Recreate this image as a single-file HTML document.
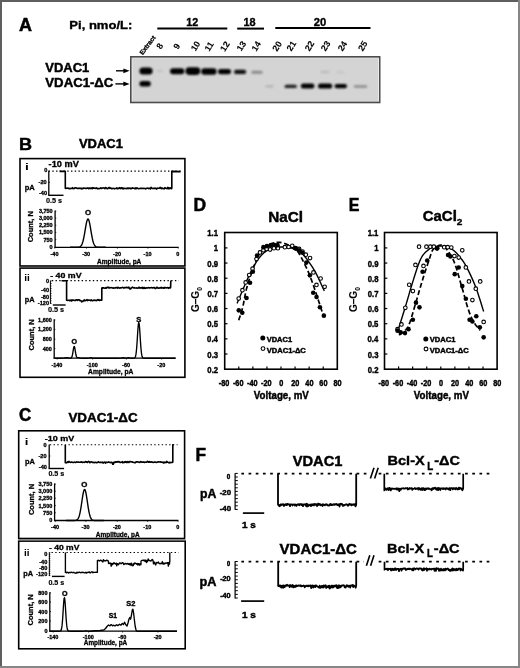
<!DOCTYPE html>
<html><head><meta charset="utf-8"><title>Figure</title>
<style>
html,body{margin:0;padding:0;background:#fff;width:520px;height:668px;overflow:hidden}
svg{display:block}
</style></head><body>
<svg width="520" height="668" viewBox="0 0 520 668" font-family="'Liberation Sans', Arial, Helvetica, sans-serif" font-weight="bold">
<rect x="0" y="0" width="520" height="668" fill="#fff"/>
<defs><filter id="bl" x="-40%" y="-80%" width="180%" height="260%"><feGaussianBlur stdDeviation="0.9"/></filter><filter id="bl2" x="-40%" y="-80%" width="180%" height="260%"><feGaussianBlur stdDeviation="1.2"/></filter><filter id="soft" x="-5%" y="-5%" width="110%" height="110%"><feGaussianBlur stdDeviation="0.35"/></filter></defs>
<text x="0" y="0" font-size="17.44" transform="translate(19.1 30.5) scale(1.03 1)" stroke="#000" stroke-width="0.49">A</text>
<text x="0" y="0" font-size="11.45" transform="translate(69.33 28.7) scale(1.14 1)" stroke="#000" stroke-width="0.35">Pi, nmo/L:</text>
<line x1="157.3" y1="28.5" x2="227.3" y2="28.5" stroke="#000" stroke-width="2"/>
<text x="0" y="0" font-size="10.67" transform="translate(186.24 25.62) scale(1.01 1)" stroke="#000" stroke-width="0.35">12</text>
<line x1="237.2" y1="28.6" x2="264" y2="28.6" stroke="#000" stroke-width="2"/>
<text x="0" y="0" font-size="10.96" transform="translate(243.49 25.72) scale(1 1)" stroke="#000" stroke-width="0.35">18</text>
<line x1="275.3" y1="28.1" x2="370.5" y2="28.1" stroke="#000" stroke-width="2"/>
<text x="0" y="0" font-size="10.81" transform="translate(313.79 25.72) scale(1.04 1)" stroke="#000" stroke-width="0.34">20</text>
<text x="-2.45" y="3.03" font-size="8.8" stroke="#000" stroke-width="0.1" transform="translate(159.6 46.2) rotate(-58)">8</text>
<text x="-2.44" y="3.03" font-size="8.8" stroke="#000" stroke-width="0.1" transform="translate(176.7 46.4) rotate(-58)">9</text>
<text x="-4.99" y="3.03" font-size="8.8" stroke="#000" stroke-width="0.1" transform="translate(195.6 46) rotate(-58)">10</text>
<text x="-5.05" y="3.03" font-size="8.8" stroke="#000" stroke-width="0.1" transform="translate(209.3 46) rotate(-58)">11</text>
<text x="-5" y="3.03" font-size="8.8" stroke="#000" stroke-width="0.1" transform="translate(224.9 46.3) rotate(-58)">12</text>
<text x="-5.01" y="3.03" font-size="8.8" stroke="#000" stroke-width="0.1" transform="translate(241.4 46) rotate(-58)">13</text>
<text x="-5.15" y="3.03" font-size="8.8" stroke="#000" stroke-width="0.1" transform="translate(256.4 46) rotate(-58)">14</text>
<text x="-4.87" y="3.03" font-size="8.8" stroke="#000" stroke-width="0.1" transform="translate(277.1 46.2) rotate(-58)">20</text>
<text x="-4.92" y="3.03" font-size="8.8" stroke="#000" stroke-width="0.1" transform="translate(291.4 46) rotate(-58)">21</text>
<text x="-4.87" y="3.03" font-size="8.8" stroke="#000" stroke-width="0.1" transform="translate(309.4 46) rotate(-58)">22</text>
<text x="-4.89" y="3.03" font-size="8.8" stroke="#000" stroke-width="0.1" transform="translate(325.6 46) rotate(-58)">23</text>
<text x="-5.02" y="3.03" font-size="8.8" stroke="#000" stroke-width="0.1" transform="translate(342.6 46) rotate(-58)">24</text>
<text x="-4.92" y="3.03" font-size="8.8" stroke="#000" stroke-width="0.1" transform="translate(362.8 46) rotate(-58)">25</text>
<text x="-11.2" y="2.27" font-size="6.5" stroke="#000" stroke-width="0.3" transform="translate(147.6 45.0) rotate(-53)">Extract</text>
<rect x="130.8" y="56.8" width="248.9" height="45.7" fill="#d4d4d4" stroke="#4c4c4c" stroke-width="1.6"/>
<line x1="132.4" y1="58.4" x2="132.4" y2="101.2" stroke="#e0e0e0" stroke-width="1"/>
<line x1="132.4" y1="58.4" x2="378" y2="58.4" stroke="#dadada" stroke-width="0.8"/>
<line x1="378.5" y1="58.4" x2="378.5" y2="101.2" stroke="#ececec" stroke-width="1"/>
<rect x="139.4" y="67.5" width="13.2" height="7" rx="3.5" fill="#000" filter="url(#bl)"/>
<rect x="156.8" y="69.7" width="6" height="2.6" rx="1.3" fill="#c2c2c2" filter="url(#bl2)"/>
<rect x="170" y="68.2" width="14.4" height="6" rx="3" fill="#000" filter="url(#bl)"/>
<rect x="185.4" y="67.3" width="15" height="7.6" rx="3.8" fill="#000" filter="url(#bl)"/>
<rect x="201.2" y="68.3" width="15.4" height="6.4" rx="3.2" fill="#000" filter="url(#bl)"/>
<rect x="218" y="69" width="13" height="5.2" rx="2.6" fill="#050505" filter="url(#bl)"/>
<rect x="234" y="69.8" width="12.2" height="4.2" rx="2.1" fill="#101010" filter="url(#bl)"/>
<rect x="251.4" y="70.8" width="11.2" height="3" rx="1.5" fill="#8a8a8a" filter="url(#bl)"/>
<rect x="320.5" y="70.7" width="9" height="2.6" rx="1.3" fill="#bcbcbc" filter="url(#bl2)"/>
<rect x="336.5" y="71.2" width="8" height="2.2" rx="1.1" fill="#c6c6c6" filter="url(#bl2)"/>
<rect x="139.4" y="81" width="11.4" height="5.6" rx="2.8" fill="#000" filter="url(#bl)"/>
<rect x="265.5" y="85.3" width="8" height="2.2" rx="1.1" fill="#b2b2b2" filter="url(#bl2)"/>
<rect x="284.6" y="84.7" width="12.2" height="3.4" rx="1.7" fill="#1a1a1a" filter="url(#bl)"/>
<rect x="300.8" y="83.5" width="13.6" height="5" rx="2.5" fill="#000" filter="url(#bl)"/>
<rect x="318" y="83.4" width="14.2" height="5.2" rx="2.6" fill="#000" filter="url(#bl)"/>
<rect x="334.6" y="83.9" width="12.4" height="4.4" rx="2.2" fill="#030303" filter="url(#bl)"/>
<rect x="353.8" y="85.2" width="13.4" height="2.6" rx="1.3" fill="#8a8a8a" filter="url(#bl)"/>
<text x="0" y="0" font-size="13.1" transform="translate(45.34 71.78) scale(0.99 1)" stroke="#000" stroke-width="0.46">VDAC1</text>
<text x="0" y="0" font-size="12.1" transform="translate(45.33 86.98) scale(1.09 1)" stroke="#000" stroke-width="0.41">VDAC1-ΔC</text>
<line x1="116" y1="70.8" x2="125" y2="70.8" stroke="#000" stroke-width="1.4"/>
<polygon points="129.6,70.8 123.4,68.4 123.4,73.2" fill="#000"/>
<line x1="115.4" y1="83.9" x2="125" y2="83.9" stroke="#000" stroke-width="1.4"/>
<polygon points="129.6,83.9 123.4,81.5 123.4,86.3" fill="#000"/>
<rect x="20" y="158.6" width="164.9" height="107.4" fill="none" stroke="#000" stroke-width="1.6"/>
<text x="0" y="0" font-size="16.72" transform="translate(19.04 149.5) scale(1.08 1)" stroke="#000" stroke-width="0.46">B</text>
<text x="0" y="0" font-size="13.68" transform="translate(78.94 148.18) scale(0.95 1)" stroke="#000" stroke-width="0.47">VDAC1</text>
<text x="0" y="0" font-size="9.52" transform="translate(24.93 170.1) scale(1.45 1)">i</text>
<text x="0" y="0" font-size="8.52" transform="translate(48.62 167.32) scale(1.08 1)" stroke="#000" stroke-width="0.33">-10 mV</text>
<text x="0" y="0" font-size="6.83" transform="translate(24.65 190.45) scale(1.11 1)" stroke="#000" stroke-width="0.27">pA</text>
<line x1="48.8" y1="170.8" x2="48.8" y2="195.3" stroke="#000" stroke-width="1.3"/>
<line x1="48.2" y1="195.3" x2="63.5" y2="195.3" stroke="#000" stroke-width="1.4"/>
<line x1="48.8" y1="182.4" x2="50" y2="182.4" stroke="#000" stroke-width="0.8"/>
<text x="44.17" y="172.33" font-size="5.6" stroke="#000" stroke-width="0.3">0</text>
<text x="38.59" y="184.03" font-size="5.6" stroke="#000" stroke-width="0.3">-20</text>
<text x="38.99" y="195.43" font-size="5.6" stroke="#000" stroke-width="0.3">-40</text>
<text x="0" y="0" font-size="6.8" transform="translate(45.89 203.03) scale(1.07 1)" stroke="#000" stroke-width="0.14">0.5 s</text>
<line x1="48.6" y1="171.2" x2="180.5" y2="171.2" stroke="#000" stroke-width="1.2" stroke-dasharray="1.4 2.33"/>
<polyline points="59.6,171.4 65.3,171.4 65.3,188.21 65.9,188.48 66.5,188.22 67.1,188.19 67.7,187.97 68.3,188.23 68.9,188.69 69.5,188.45 70.1,188.66 70.7,188.39 71.3,188.44 71.9,188.36 72.5,187.72 73.1,188.6 73.7,188.48 74.3,188.47 74.9,187.71 75.5,187.69 76.1,187.99 76.7,188.14 77.3,188.41 77.9,188.28 78.5,188.48 79.1,188.08 79.7,188.41 80.3,188.44 80.9,188.07 81.5,188.9 82.1,188.49 82.7,188.72 83.3,188.08 83.9,188.04 84.5,188.18 85.1,188.26 85.7,188.52 86.3,188.39 86.9,188.14 87.5,187.97 88.1,188.12 88.7,188.73 89.3,188.02 89.9,188.39 90.5,188.45 91.1,187.78 91.7,188.32 92.3,188.76 92.9,187.59 93.5,188.19 94.1,188.26 94.7,188.01 95.3,188.47 95.9,188.28 96.5,187.79 97.1,188.59 97.7,188.53 98.3,188.63 98.9,188.8 99.5,188.43 100.1,188.34 100.7,187.85 101.3,188.52 101.9,188.09 102.5,188.14 103.1,187.86 103.7,187.96 104.3,188.11 104.9,188.75 105.5,187.59 106.1,187.79 106.7,188.38 107.3,188.81 107.9,188.5 108.5,187.64 109.1,187.42 109.7,188.43 110.3,188.04 110.9,187.91 111.5,188.64 112.1,188.69 112.7,188.36 113.3,188.39 113.9,188.45 114.5,188.86 115.1,188.52 115.7,188.48 116.3,188.49 116.9,187.75 117.5,188.75 118.1,188.63 118.7,188.49 119.3,187.61 119.9,188.08 120.5,188.59 121.1,187.67 121.7,188.24 122.3,188.66 122.9,187.84 123.5,188.86 124.1,188.49 124.7,188.25 125.3,188.41 125.9,188.53 126.5,188.34 127.1,188.7 127.7,188.07 128.3,188.15 128.9,188.66 129.5,188.31 130.1,187.99 130.7,188.63 131.3,188.81 131.9,188.14 132.5,187.82 133.1,188.25 133.7,188.25 134.3,188.2 134.9,188.79 135.5,187.94 136.1,188.74 136.7,187.86 137.3,188.02 137.9,188.52 138.5,188.7 139.1,188.6 139.7,188.42 140.3,188.35 140.9,188.35 141.5,188.5 142.1,188.24 142.7,188.4 143.3,188.5 143.9,188.3 144.5,188.57 145.1,188.5 145.7,189 146.3,188.41 146.9,188.15 147.5,188.17 148.1,188.3 148.7,188.62 149.3,188.18 149.9,188.44 150.5,188.94 151.1,187.4 151.7,187.91 152.3,188.39 152.9,188.44 153.5,188.38 154.1,188.15 154.7,188.53 155.3,188.4 155.9,188.12 156.5,189.15 157.1,188.42 157.7,188.11 158.3,188.27 158.9,188.22 159.5,188.28 160.1,187.35 160.7,188.13 161.3,188.65 161.9,187.89 162.5,188.28 163.1,188.63 163.7,188.6 164.3,188.82 164.9,187.7 165.5,188.18 166.1,188.18 166.7,188.52 167.3,188.68 167.9,187.36 168.5,188.68 169.1,187.79 169.7,188.54 170.3,187.78 170.9,188.36 171.5,188.72 171.8,188.3 171.8,171.4 180.6,171.6" fill="none" stroke="#000" stroke-width="1.6" stroke-linejoin="round"/>
<line x1="55.1" y1="210.4" x2="55.1" y2="247.9" stroke="#000" stroke-width="1.3"/>
<line x1="54.5" y1="247.3" x2="178.6" y2="247.3" stroke="#000" stroke-width="1.3"/>
<text x="0" y="0" font-size="5.8" transform="translate(38.89 213.2) scale(0.95 1)" stroke="#000" stroke-width="0.32">3,750</text>
<line x1="55.1" y1="211.2" x2="56.3" y2="211.2" stroke="#000" stroke-width="0.8"/>
<text x="0" y="0" font-size="5.8" transform="translate(38.89 220.2) scale(0.95 1)" stroke="#000" stroke-width="0.32">3,000</text>
<line x1="55.1" y1="218.2" x2="56.3" y2="218.2" stroke="#000" stroke-width="0.8"/>
<text x="0" y="0" font-size="5.8" transform="translate(38.89 227.3) scale(0.95 1)" stroke="#000" stroke-width="0.32">2,250</text>
<line x1="55.1" y1="225.3" x2="56.3" y2="225.3" stroke="#000" stroke-width="0.8"/>
<text x="0" y="0" font-size="5.8" transform="translate(38.89 234.4) scale(0.95 1)" stroke="#000" stroke-width="0.32">1,500</text>
<line x1="55.1" y1="232.4" x2="56.3" y2="232.4" stroke="#000" stroke-width="0.8"/>
<text x="0" y="0" font-size="5.8" transform="translate(43.48 241.6) scale(0.95 1)" stroke="#000" stroke-width="0.32">750</text>
<line x1="55.1" y1="239.6" x2="56.3" y2="239.6" stroke="#000" stroke-width="0.8"/>
<text x="0" y="0" font-size="5.8" transform="translate(49.61 248.8) scale(0.95 1)" stroke="#000" stroke-width="0.32">0</text>
<text x="0" y="0" font-size="5.8" transform="translate(50.52 255.8) scale(0.95 1)" stroke="#000" stroke-width="0.32">-40</text>
<line x1="54.8" y1="247.3" x2="54.8" y2="248.6" stroke="#000" stroke-width="0.8"/>
<text x="0" y="0" font-size="5.8" transform="translate(82.22 255.8) scale(0.95 1)" stroke="#000" stroke-width="0.32">-30</text>
<line x1="86.5" y1="247.3" x2="86.5" y2="248.6" stroke="#000" stroke-width="0.8"/>
<text x="0" y="0" font-size="5.8" transform="translate(113.12 255.8) scale(0.95 1)" stroke="#000" stroke-width="0.32">-20</text>
<line x1="117.4" y1="247.3" x2="117.4" y2="248.6" stroke="#000" stroke-width="0.8"/>
<text x="0" y="0" font-size="5.8" transform="translate(143.62 255.8) scale(0.95 1)" stroke="#000" stroke-width="0.32">-10</text>
<line x1="147.9" y1="247.3" x2="147.9" y2="248.6" stroke="#000" stroke-width="0.8"/>
<text x="0" y="0" font-size="5.8" transform="translate(176.37 255.8) scale(0.95 1)" stroke="#000" stroke-width="0.32">0</text>
<line x1="178.2" y1="247.3" x2="178.2" y2="248.6" stroke="#000" stroke-width="0.8"/>
<text x="-15.52" y="0" font-size="7.5" stroke="#000" stroke-width="0.3" transform="translate(33.2 226.8) rotate(-90)">Count, N</text>
<text x="0" y="0" font-size="7.18" transform="translate(97.09 263.75) scale(0.91 1)" stroke="#000" stroke-width="0.33">Amplitude, pA</text>
<text x="0" y="0" font-size="6.66" transform="translate(85.05 215.12) scale(1.18 1)" stroke="#000" stroke-width="0.3">O</text>
<polyline points="70,247.3 70.35,247.3 70.7,247.3 71.05,247.3 71.4,247.3 71.75,247.3 72.1,247.3 72.45,247.3 72.8,247.3 73.15,247.3 73.5,247.3 73.85,247.3 74.2,247.3 74.55,247.3 74.9,247.3 75.25,247.3 75.6,247.3 75.95,247.3 76.3,247.29 76.65,247.29 77,247.28 77.35,247.27 77.7,247.26 78.05,247.24 78.4,247.2 78.75,247.15 79.1,247.08 79.45,246.99 79.8,246.85 80.15,246.66 80.5,246.41 80.85,246.08 81.2,245.66 81.55,245.11 81.9,244.44 82.25,243.6 82.6,242.6 82.95,241.41 83.3,240.04 83.65,238.47 84,236.73 84.35,234.84 84.7,232.82 85.05,230.74 85.4,228.63 85.75,226.58 86.1,224.64 86.45,222.89 86.8,221.4 87.15,220.23 87.5,219.43 87.85,219.04 88.2,219.07 88.55,219.52 88.9,220.38 89.25,221.6 89.6,223.13 89.95,224.91 90.3,226.87 90.65,228.93 91,231.04 91.35,233.12 91.7,235.12 92.05,236.99 92.4,238.71 92.75,240.24 93.1,241.59 93.45,242.75 93.8,243.73 94.15,244.54 94.5,245.2 94.85,245.72 95.2,246.14 95.55,246.45 95.9,246.69 96.25,246.87 96.6,247 96.95,247.1 97.3,247.16 97.65,247.21 98,247.24 98.35,247.26 98.7,247.28 99.05,247.28 99.4,247.29 99.75,247.29 100.1,247.3 100.45,247.3 100.8,247.3 101.15,247.3 101.5,247.3 101.85,247.3 102.2,247.3 102.55,247.3 102.9,247.3 103.25,247.3 103.6,247.3 103.95,247.3 104.3,247.3 104.65,247.3 105,247.3 105.35,247.3 105.7,247.3" fill="none" stroke="#000" stroke-width="1.4" stroke-linejoin="round"/>
<rect x="20" y="268.1" width="164.9" height="109.2" fill="none" stroke="#000" stroke-width="1.6"/>
<text x="0" y="0" font-size="8.14" transform="translate(24.29 281.1) scale(1.24 1)">ii</text>
<text x="0" y="0" font-size="7.95" transform="translate(50.23 277.93) scale(1.11 1)" stroke="#000" stroke-width="0.32">- 40 mV</text>
<text x="0" y="0" font-size="6.98" transform="translate(24.66 302.25) scale(1.06 1)" stroke="#000" stroke-width="0.28">pA</text>
<line x1="50.4" y1="280.6" x2="50.4" y2="303.9" stroke="#000" stroke-width="1"/>
<line x1="52.8" y1="305" x2="65.6" y2="305" stroke="#000" stroke-width="1.4"/>
<line x1="50.4" y1="281" x2="51.6" y2="281" stroke="#000" stroke-width="0.8"/>
<line x1="50.4" y1="283.49" x2="51.6" y2="283.49" stroke="#000" stroke-width="0.8"/>
<line x1="50.4" y1="285.98" x2="51.6" y2="285.98" stroke="#000" stroke-width="0.8"/>
<line x1="50.4" y1="288.47" x2="51.6" y2="288.47" stroke="#000" stroke-width="0.8"/>
<line x1="50.4" y1="290.96" x2="51.6" y2="290.96" stroke="#000" stroke-width="0.8"/>
<line x1="50.4" y1="293.44" x2="51.6" y2="293.44" stroke="#000" stroke-width="0.8"/>
<line x1="50.4" y1="295.93" x2="51.6" y2="295.93" stroke="#000" stroke-width="0.8"/>
<line x1="50.4" y1="298.42" x2="51.6" y2="298.42" stroke="#000" stroke-width="0.8"/>
<line x1="50.4" y1="300.91" x2="51.6" y2="300.91" stroke="#000" stroke-width="0.8"/>
<line x1="50.4" y1="303.4" x2="51.6" y2="303.4" stroke="#000" stroke-width="0.8"/>
<text x="45.97" y="283.33" font-size="5.6" stroke="#000" stroke-width="0.3">0</text>
<text x="40.99" y="291.83" font-size="5.6" stroke="#000" stroke-width="0.3">-40</text>
<text x="40.99" y="298.73" font-size="5.6" stroke="#000" stroke-width="0.3">-80</text>
<text x="37.87" y="305.43" font-size="5.6" stroke="#000" stroke-width="0.3">-120</text>
<text x="0" y="0" font-size="6.66" transform="translate(47.88 311.53) scale(1.1 1)" stroke="#000" stroke-width="0.14">0.5 s</text>
<line x1="51.8" y1="280.6" x2="178.8" y2="280.6" stroke="#000" stroke-width="1.1" stroke-dasharray="1.4 2.33"/>
<polyline points="61.5,280.8 66.6,280.8 66.6,300.16 67.2,300.26 67.8,300.44 68.4,300.24 69,300.17 69.6,300.66 70.2,300.51 70.8,300.11 71.4,301.02 72,299.86 72.6,300.47 73.2,300.12 73.8,300.24 74.4,300.41 75,300.27 75.6,300.39 76.2,299.74 76.8,299.75 77.4,300.38 78,299.91 78.6,299.89 79.2,299.76 79.8,300.58 80.4,300.42 81,300.64 81.6,301.8 82.2,301.5 82.8,301.5 83.4,300.43 84,300.68 84.6,299.93 85.2,300.67 85.8,300.5 86.4,300.15 87,299.61 87.6,300.62 88.2,300.17 88.8,300.02 89.4,300.32 90,300.32 90.6,300.65 91.2,299.89 91.8,300.54 92.4,300.65 93,300.64 93.6,300.15 94.2,299.98 94.8,300.51 95.4,300.23 96,300.24 96.6,300.63 97.2,300.12 97.8,299.51 98.4,300.08 99,299.64 99.6,300.45 100.2,300.3 100.8,300.02 101.4,300.2 101.8,300.2 101.8,288.03 102.4,287.82 103,288.17 103.6,287.78 104.2,288.09 104.8,288.22 105.4,288.25 106,287.61 106.6,288.05 107.2,287.27 107.8,287.5 108.4,287.25 109,288.1 109.6,287.46 110.2,287.8 110.8,287.75 111.4,287.79 112,287.63 112.6,287.87 113.2,288.3 113.8,287.81 114.4,287.95 115,288.08 115.6,287.74 116.2,287.45 116.8,287.64 117.4,288.1 118,287.34 118.6,287.63 119.2,288.08 119.8,288.02 120.4,287.8 121,288.03 121.6,287.85 122.2,287.47 122.8,287.36 123.4,287.62 124,288.06 124.6,287.64 125.2,287.55 125.8,287.58 126.4,287.37 127,287.77 127.6,287.47 128.2,287.9 128.8,287.14 129.4,287.89 130,289 130.6,289 131.2,288 131.8,287.72 132.4,287.18 133,287.55 133.6,287.88 134.2,287.67 134.8,288.02 135.4,288.01 136,287.99 136.6,287.89 137.2,288.17 137.8,287.98 138.4,287.93 139,287.22 139.6,288.05 140.2,288.17 140.8,287.72 141.4,287.67 142,288.34 142.6,287.31 143.2,287.93 143.8,288.48 144.4,287.54 145,287.99 145.6,288.33 146.2,287.77 146.8,287.96 147.4,288.05 148,287.55 148.6,287.78 149.2,287.88 149.8,288.03 150.4,287.79 151,287.75 151.6,287.52 152.2,287.7 152.8,288.05 153.4,287.83 154,287.56 154.6,287.56 155.2,288.55 155.8,288.12 156.4,287.98 157,287.07 157.6,287.97 158.2,287.93 158.8,288.27 159.4,287.92 160,287.78 160.6,287.95 161.2,287.26 161.8,288.09 162.4,287.89 163,287.6 163.6,288.17 164.2,288.31 164.8,287.41 165.4,287.61 166,287.88 166.6,287.85 167.2,287.69 167.8,287.53 168.4,288.39 169,288.09 169.6,287.47 170.2,287.42 170.6,287.8 170.8,280.6" fill="none" stroke="#000" stroke-width="1.6" stroke-linejoin="round"/>
<line x1="54.2" y1="319.3" x2="54.2" y2="358.8" stroke="#000" stroke-width="1.3"/>
<line x1="53.6" y1="358.2" x2="175.8" y2="358.2" stroke="#000" stroke-width="1.3"/>
<text x="0" y="0" font-size="5.8" transform="translate(38.09 322) scale(0.95 1)" stroke="#000" stroke-width="0.32">1,600</text>
<line x1="54.2" y1="320" x2="55.4" y2="320" stroke="#000" stroke-width="0.8"/>
<text x="0" y="0" font-size="5.8" transform="translate(38.09 331.4) scale(0.95 1)" stroke="#000" stroke-width="0.32">1,200</text>
<line x1="54.2" y1="329.4" x2="55.4" y2="329.4" stroke="#000" stroke-width="0.8"/>
<text x="0" y="0" font-size="5.8" transform="translate(42.68 341.2) scale(0.95 1)" stroke="#000" stroke-width="0.32">800</text>
<line x1="54.2" y1="339.2" x2="55.4" y2="339.2" stroke="#000" stroke-width="0.8"/>
<text x="0" y="0" font-size="5.8" transform="translate(42.68 350.6) scale(0.95 1)" stroke="#000" stroke-width="0.32">400</text>
<line x1="54.2" y1="348.6" x2="55.4" y2="348.6" stroke="#000" stroke-width="0.8"/>
<text x="0" y="0" font-size="5.8" transform="translate(51.39 366.8) scale(0.95 1)" stroke="#000" stroke-width="0.32">-140</text>
<line x1="57.2" y1="358.2" x2="57.2" y2="359.5" stroke="#000" stroke-width="0.8"/>
<text x="0" y="0" font-size="5.8" transform="translate(86.79 366.8) scale(0.95 1)" stroke="#000" stroke-width="0.32">-100</text>
<line x1="92.6" y1="358.2" x2="92.6" y2="359.5" stroke="#000" stroke-width="0.8"/>
<text x="0" y="0" font-size="5.8" transform="translate(122.12 366.8) scale(0.95 1)" stroke="#000" stroke-width="0.32">-60</text>
<line x1="126.4" y1="358.2" x2="126.4" y2="359.5" stroke="#000" stroke-width="0.8"/>
<text x="0" y="0" font-size="5.8" transform="translate(157.32 366.8) scale(0.95 1)" stroke="#000" stroke-width="0.32">-20</text>
<line x1="161.6" y1="358.2" x2="161.6" y2="359.5" stroke="#000" stroke-width="0.8"/>
<text x="-15.52" y="0" font-size="7.5" stroke="#000" stroke-width="0.3" transform="translate(34 335) rotate(-90)">Count, N</text>
<text x="0" y="0" font-size="6.76" transform="translate(88.08 374.45) scale(0.99 1)" stroke="#000" stroke-width="0.3">Amplitude, pA</text>
<text x="0" y="0" font-size="6.66" transform="translate(71.58 344.22) scale(1.07 1)" stroke="#000" stroke-width="0.33">O</text>
<text x="0" y="0" font-size="6.66" transform="translate(136.26 321.52) scale(1.14 1)" stroke="#000" stroke-width="0.31">S</text>
<polyline points="55,358.2 55.35,358.2 55.7,358.2 56.05,358.2 56.4,358.2 56.75,358.2 57.1,358.2 57.45,358.2 57.8,358.2 58.15,358.2 58.5,358.2 58.85,358.2 59.2,358.2 59.55,358.2 59.9,358.2 60.25,358.2 60.6,358.2 60.95,358.2 61.3,358.2 61.65,358.2 62,358.19 62.35,358.19 62.7,358.18 63.05,358.16 63.4,358.14 63.75,358.11 64.1,358.06 64.45,358 64.8,357.94 65.15,357.87 65.5,357.8 65.85,357.74 66.2,357.71 66.55,357.7 66.9,357.72 67.25,357.76 67.6,357.82 67.95,357.89 68.3,357.96 68.65,358.02 69,358.08 69.35,358.12 69.7,358.15 70.05,358.16 70.4,358.15 70.75,358.1 71.1,357.97 71.45,357.68 71.8,357.11 72.15,356.12 72.5,354.63 72.85,352.64 73.2,350.39 73.55,348.29 73.9,346.83 74.25,346.41 74.6,347.15 74.95,348.84 75.3,351.03 75.65,353.21 76,355.04 76.35,356.33 76.7,357.11 77.05,357.5 77.4,357.63 77.75,357.64 78.1,357.61 78.45,357.59 78.8,357.62 79.15,357.68 79.5,357.78 79.85,357.88 80.2,357.98 80.55,358.06 80.9,358.12 81.25,358.16 81.6,358.18 81.95,358.19 82.3,358.2 82.65,358.2 83,358.2 83.35,358.2 83.7,358.2 84.05,358.2 84.4,358.2 84.75,358.2 85.1,358.2 85.45,358.2 85.8,358.2 86.15,358.2 86.5,358.2 86.85,358.2 87.2,358.2 87.55,358.2 87.9,358.2 88.25,358.19 88.6,358.17 88.95,358.14 89.3,358.08 89.65,358 90,357.9 90.35,357.8 90.7,357.72 91.05,357.7 91.4,357.74 91.75,357.82 92.1,357.93 92.45,358.03 92.8,358.1 93.15,358.15 93.5,358.18 93.85,358.19 94.2,358.2 94.55,358.2 94.9,358.2 95.25,358.2 95.6,358.2 95.95,358.2 96.3,358.2 96.65,358.2 97,358.2 97.35,358.2 97.7,358.2 98.05,358.2 98.4,358.2 98.75,358.2 99.1,358.2 99.45,358.2 99.8,358.2 100.15,358.2 100.5,358.2 100.85,358.2 101.2,358.2 101.55,358.2 101.9,358.2 102.25,358.2 102.6,358.2 102.95,358.2 103.3,358.2 103.65,358.2 104,358.2 104.35,358.2 104.7,358.2 105.05,358.2 105.4,358.2 105.75,358.2 106.1,358.2 106.45,358.2 106.8,358.2 107.15,358.2 107.5,358.2 107.85,358.2 108.2,358.2 108.55,358.2 108.9,358.2 109.25,358.2 109.6,358.2 109.95,358.2 110.3,358.2 110.65,358.2 111,358.2 111.35,358.2 111.7,358.2 112.05,358.2 112.4,358.2 112.75,358.2 113.1,358.2 113.45,358.2 113.8,358.2 114.15,358.2 114.5,358.2 114.85,358.2 115.2,358.2 115.55,358.2 115.9,358.2 116.25,358.2 116.6,358.2 116.95,358.2 117.3,358.2 117.65,358.2 118,358.2 118.35,358.2 118.7,358.2 119.05,358.2 119.4,358.19 119.75,358.19 120.1,358.17 120.45,358.15 120.8,358.11 121.15,358.05 121.5,357.97 121.85,357.88 122.2,357.8 122.55,357.73 122.9,357.7 123.25,357.71 123.6,357.76 123.95,357.83 124.3,357.92 124.65,358.01 125,358.07 125.35,358.12 125.7,358.15 126.05,358.16 126.4,358.14 126.75,358.09 127.1,358.01 127.45,357.91 127.8,357.81 128.15,357.73 128.5,357.7 128.85,357.73 129.2,357.81 129.55,357.91 129.9,358.01 130.25,358.09 130.6,358.14 130.95,358.18 131.3,358.19 131.65,358.2 132,358.2 132.35,358.2 132.7,358.2 133.05,358.2 133.4,358.19 133.75,358.17 134.1,358.12 134.45,358 134.8,357.76 135.15,357.27 135.5,356.4 135.85,354.91 136.2,352.6 136.55,349.27 136.9,344.9 137.25,339.68 137.6,334.08 137.95,328.84 138.3,324.77 138.65,322.62 139,322.79 139.35,325.25 139.7,329.53 140.05,334.88 140.4,340.46 140.75,345.59 141.1,349.81 141.45,352.99 141.8,355.17 142.15,356.55 142.5,357.36 142.85,357.8 143.2,358.02 143.55,358.13 143.9,358.17 144.25,358.19 144.6,358.2 144.95,358.2 145.3,358.2 145.65,358.2 146,358.2 146.35,358.2 146.7,358.2 147.05,358.2 147.4,358.2 147.75,358.2 148.1,358.2 148.45,358.2 148.8,358.2 149.15,358.2 149.5,358.2 149.85,358.2 150.2,358.2 150.55,358.2 150.9,358.2 151.25,358.2 151.6,358.2 151.95,358.2 152.3,358.2 152.65,358.2 153,358.2 153.35,358.2 153.7,358.2 154.05,358.2 154.4,358.2 154.75,358.2 155.1,358.2 155.45,358.2 155.8,358.2 156.15,358.2 156.5,358.2 156.85,358.2 157.2,358.2 157.55,358.2 157.9,358.2 158.25,358.2 158.6,358.2 158.95,358.2 159.3,358.2 159.65,358.2 160,358.2 160.35,358.2 160.7,358.2 161.05,358.2 161.4,358.2 161.75,358.2 162.1,358.2 162.45,358.2 162.8,358.2 163.15,358.2 163.5,358.2 163.85,358.2 164.2,358.2 164.55,358.2 164.9,358.2 165.25,358.2 165.6,358.2 165.95,358.2 166.3,358.2 166.65,358.2 167,358.2 167.35,358.2 167.7,358.2 168.05,358.2 168.4,358.2 168.75,358.2 169.1,358.2 169.45,358.2 169.8,358.2 170.15,358.2 170.5,358.2 170.85,358.2 171.2,358.2 171.55,358.2 171.9,358.2 172.25,358.2 172.6,358.2 172.95,358.2 173.3,358.2 173.65,358.2 174,358.2 174.35,358.2 174.7,358.2 175.05,358.2 175.4,358.2" fill="none" stroke="#000" stroke-width="1.35" stroke-linejoin="round"/>
<text x="0" y="0" font-size="17.62" transform="translate(19.06 420.75) scale(0.96 1)" stroke="#000" stroke-width="0.52">C</text>
<text x="0" y="0" font-size="13.68" transform="translate(68.43 421.97) scale(0.98 1)" stroke="#000" stroke-width="0.46">VDAC1-ΔC</text>
<rect x="18.7" y="430.8" width="165.9" height="107.7" fill="none" stroke="#000" stroke-width="1.6"/>
<text x="0" y="0" font-size="8.28" transform="translate(24.78 444.9) scale(1.58 1)">i</text>
<text x="0" y="0" font-size="7.95" transform="translate(44.83 441.12) scale(1.13 1)" stroke="#000" stroke-width="0.31">-10 mV</text>
<text x="0" y="0" font-size="7.41" transform="translate(25.06 464.45) scale(1 1)" stroke="#000" stroke-width="0.3">pA</text>
<line x1="49.2" y1="444.4" x2="49.2" y2="468.5" stroke="#000" stroke-width="1.3"/>
<line x1="48.6" y1="468.5" x2="64.1" y2="468.5" stroke="#000" stroke-width="1.4"/>
<line x1="49.2" y1="456" x2="50.4" y2="456" stroke="#000" stroke-width="0.8"/>
<text x="43.47" y="446.83" font-size="5.6" stroke="#000" stroke-width="0.3">0</text>
<text x="38.49" y="457.83" font-size="5.6" stroke="#000" stroke-width="0.3">-20</text>
<text x="38.79" y="468.73" font-size="5.6" stroke="#000" stroke-width="0.3">-40</text>
<text x="0" y="0" font-size="7.23" transform="translate(48.39 476.32) scale(0.99 1)" stroke="#000" stroke-width="0.15">0.5 s</text>
<line x1="49.8" y1="444.8" x2="177.6" y2="444.8" stroke="#000" stroke-width="1.1" stroke-dasharray="1.4 2.33"/>
<polyline points="65.3,444.9 65.3,462.8 65.9,462.55 66.5,462.84 67.1,462.48 67.7,461.89 68.3,462.29 68.9,461.44 69.5,461.94 70.1,462.18 70.7,462.38 71.3,461.95 71.9,462.16 72.5,462.36 73.1,462.33 73.7,462.42 74.3,462.27 74.9,462.09 75.5,462.48 76.1,462.22 76.7,461.91 77.3,461.98 77.9,462.2 78.5,462.16 79.1,462.25 79.7,462.2 80.3,462.26 80.9,462.15 81.5,461.76 82.1,462.35 82.7,462.57 83.3,462.35 83.9,462.13 84.5,462.36 85.1,461.86 85.7,461.54 86.3,462.22 86.9,461.87 87.5,462.46 88.1,461.82 88.7,461.28 89.3,461.84 89.9,462.75 90.5,462.07 91.1,461.72 91.7,461.93 92.3,462.38 92.9,462.37 93.5,462.26 94.1,462.72 94.7,462.45 95.3,462.19 95.9,462.41 96.5,462.78 97.1,462.54 97.7,462.56 98.3,461.82 98.9,462.15 99.5,462.46 100.1,462.1 100.7,462.57 101.3,462.41 101.9,462.52 102.5,462.13 103.1,463.09 103.7,462.63 104.3,462.12 104.9,462.23 105.5,463.11 106.1,462.08 106.7,462.51 107.3,462.54 107.9,462.2 108.5,461.79 109.1,462.27 109.7,462.33 110.3,462.6 110.9,462.47 111.5,462.21 112.1,462.5 112.7,464.2 113.3,464.2 113.9,462.22 114.5,462.11 115.1,462.44 115.7,461.83 116.3,461.98 116.9,462.2 117.5,461.69 118.1,462.05 118.7,461.5 119.3,461.96 119.9,462.4 120.5,462.4 121.1,462.18 121.7,462.12 122.3,461.7 122.9,462.84 123.5,462.38 124.1,462.58 124.7,461.89 125.3,462.14 125.9,461.56 126.5,462.47 127.1,462.53 127.7,461.54 128.3,462.18 128.9,462.42 129.5,461.58 130.1,461.56 130.7,461.83 131.3,461.98 131.9,461.71 132.5,462.21 133.1,462.29 133.7,462.42 134.3,462.45 134.9,462.73 135.5,462.61 136.1,461.74 136.7,462.02 137.3,461.83 137.9,461.82 138.5,462.17 139.1,462.2 139.7,462.37 140.3,461.64 140.9,461.77 141.5,462.19 142.1,462.13 142.7,462.09 143.3,462.18 143.9,461.93 144.5,462.45 145.1,462.32 145.7,462.17 146.3,461.96 146.9,462.14 147.5,461.25 148.1,461.86 148.7,462.21 149.3,461.67 149.9,462.27 150.5,462.25 151.1,461.72 151.7,462.11 152.3,462.09 152.9,462.36 153.5,462.41 154.1,462.19 154.7,461.9 155.3,462.15 155.9,462.18 156.5,462.46 157.1,462.3 157.7,461.95 158.3,461.73 158.9,462.07 159.5,461.94 160.1,461.81 160.7,462.16 161.3,462.03 161.9,462.24 162.5,462.38 163.1,462.06 163.7,463.01 164.3,462.09 164.9,462.59 165.5,462.24 166.1,462.59 166.7,461.37 167.3,461.94 167.9,462.29 168.5,462.41 169.1,463.02 169.7,462.31 170.3,462.65 170.9,462.47 171.5,462.53 172.1,462.38 172.7,462.15 172.8,462.2 172.8,444.8 173.8,444.8" fill="none" stroke="#000" stroke-width="1.6" stroke-linejoin="round"/>
<line x1="54.6" y1="483.4" x2="54.6" y2="521" stroke="#000" stroke-width="1.3"/>
<line x1="54" y1="520.5" x2="178.4" y2="520.5" stroke="#000" stroke-width="1.3"/>
<text x="0" y="0" font-size="5.8" transform="translate(38.49 486.2) scale(0.95 1)" stroke="#000" stroke-width="0.32">3,750</text>
<line x1="54.6" y1="484.2" x2="55.8" y2="484.2" stroke="#000" stroke-width="0.8"/>
<text x="0" y="0" font-size="5.8" transform="translate(38.49 493.2) scale(0.95 1)" stroke="#000" stroke-width="0.32">3,000</text>
<line x1="54.6" y1="491.2" x2="55.8" y2="491.2" stroke="#000" stroke-width="0.8"/>
<text x="0" y="0" font-size="5.8" transform="translate(38.49 500.2) scale(0.95 1)" stroke="#000" stroke-width="0.32">2,250</text>
<line x1="54.6" y1="498.2" x2="55.8" y2="498.2" stroke="#000" stroke-width="0.8"/>
<text x="0" y="0" font-size="5.8" transform="translate(38.49 507.6) scale(0.95 1)" stroke="#000" stroke-width="0.32">1,500</text>
<line x1="54.6" y1="505.6" x2="55.8" y2="505.6" stroke="#000" stroke-width="0.8"/>
<text x="0" y="0" font-size="5.8" transform="translate(43.08 514.8) scale(0.95 1)" stroke="#000" stroke-width="0.32">750</text>
<line x1="54.6" y1="512.8" x2="55.8" y2="512.8" stroke="#000" stroke-width="0.8"/>
<text x="0" y="0" font-size="5.8" transform="translate(49.21 522) scale(0.95 1)" stroke="#000" stroke-width="0.32">0</text>
<text x="0" y="0" font-size="5.8" transform="translate(51.12 528.8) scale(0.95 1)" stroke="#000" stroke-width="0.32">-40</text>
<line x1="55.4" y1="520.5" x2="55.4" y2="521.8" stroke="#000" stroke-width="0.8"/>
<text x="0" y="0" font-size="5.8" transform="translate(81.62 528.8) scale(0.95 1)" stroke="#000" stroke-width="0.32">-30</text>
<line x1="85.9" y1="520.5" x2="85.9" y2="521.8" stroke="#000" stroke-width="0.8"/>
<text x="0" y="0" font-size="5.8" transform="translate(112.92 528.8) scale(0.95 1)" stroke="#000" stroke-width="0.32">-20</text>
<line x1="117.2" y1="520.5" x2="117.2" y2="521.8" stroke="#000" stroke-width="0.8"/>
<text x="0" y="0" font-size="5.8" transform="translate(143.32 528.8) scale(0.95 1)" stroke="#000" stroke-width="0.32">-10</text>
<line x1="147.6" y1="520.5" x2="147.6" y2="521.8" stroke="#000" stroke-width="0.8"/>
<text x="0" y="0" font-size="5.8" transform="translate(176.17 528.8) scale(0.95 1)" stroke="#000" stroke-width="0.32">0</text>
<line x1="178" y1="520.5" x2="178" y2="521.8" stroke="#000" stroke-width="0.8"/>
<text x="-15.52" y="0" font-size="7.5" stroke="#000" stroke-width="0.3" transform="translate(34 499.6) rotate(-90)">Count, N</text>
<text x="0" y="0" font-size="7.04" transform="translate(95.79 536.65) scale(0.92 1)" stroke="#000" stroke-width="0.32">Amplitude, pA</text>
<text x="0" y="0" font-size="6.66" transform="translate(81.35 487.12) scale(1.18 1)" stroke="#000" stroke-width="0.3">O</text>
<polyline points="66,520.5 66.35,520.5 66.7,520.5 67.05,520.5 67.4,520.5 67.75,520.5 68.1,520.5 68.45,520.5 68.8,520.5 69.15,520.5 69.5,520.5 69.85,520.5 70.2,520.5 70.55,520.5 70.9,520.5 71.25,520.5 71.6,520.5 71.95,520.5 72.3,520.5 72.65,520.5 73,520.5 73.35,520.49 73.7,520.49 74.05,520.48 74.4,520.47 74.75,520.45 75.1,520.42 75.45,520.38 75.8,520.31 76.15,520.22 76.5,520.09 76.85,519.92 77.2,519.67 77.55,519.34 77.9,518.91 78.25,518.34 78.6,517.63 78.95,516.74 79.3,515.66 79.65,514.37 80,512.85 80.35,511.11 80.7,509.16 81.05,507.03 81.4,504.75 81.75,502.38 82.1,499.99 82.45,497.66 82.8,495.48 83.15,493.52 83.5,491.88 83.85,490.63 84.2,489.83 84.55,489.51 84.9,489.68 85.25,490.35 85.6,491.48 85.95,493.02 86.3,494.89 86.65,497.02 87,499.32 87.35,501.7 87.7,504.08 88.05,506.39 88.4,508.57 88.75,510.57 89.1,512.37 89.45,513.95 89.8,515.31 90.15,516.46 90.5,517.4 90.85,518.16 91.2,518.76 91.55,519.23 91.9,519.59 92.25,519.85 92.6,520.05 92.95,520.19 93.3,520.29 93.65,520.36 94,520.41 94.35,520.44 94.7,520.46 95.05,520.48 95.4,520.49 95.75,520.49 96.1,520.5 96.45,520.5 96.8,520.5 97.15,520.5 97.5,520.5 97.85,520.5 98.2,520.5 98.55,520.5 98.9,520.5 99.25,520.5 99.6,520.5 99.95,520.5 100.3,520.5 100.65,520.5 101,520.5 101.35,520.5 101.7,520.5 102.05,520.5 102.4,520.5 102.75,520.5 103.1,520.5 103.45,520.5 103.8,520.5" fill="none" stroke="#000" stroke-width="1.4" stroke-linejoin="round"/>
<rect x="18.7" y="541.1" width="166.5" height="107.7" fill="none" stroke="#000" stroke-width="1.6"/>
<line x1="18.7" y1="539.8" x2="185.2" y2="539.8" stroke="#7a7a7a" stroke-width="1.2"/>
<text x="0" y="0" font-size="8.28" transform="translate(24.11 556.1) scale(1.19 1)">ii</text>
<text x="0" y="0" font-size="7.23" transform="translate(49.04 550.23) scale(1.18 1)" stroke="#000" stroke-width="0.3">- 40 mV</text>
<text x="0" y="0" font-size="7.12" transform="translate(23.26 575.65) scale(1.04 1)" stroke="#000" stroke-width="0.29">pA</text>
<line x1="49.4" y1="552.4" x2="49.4" y2="576.1" stroke="#000" stroke-width="0.9"/>
<line x1="51.9" y1="576.4" x2="64.6" y2="576.4" stroke="#000" stroke-width="1.4"/>
<line x1="48.8" y1="552.8" x2="50.3" y2="552.8" stroke="#000" stroke-width="0.9"/>
<line x1="48.8" y1="554.68" x2="50.3" y2="554.68" stroke="#000" stroke-width="0.9"/>
<line x1="48.8" y1="556.57" x2="50.3" y2="556.57" stroke="#000" stroke-width="0.9"/>
<line x1="48.8" y1="558.45" x2="50.3" y2="558.45" stroke="#000" stroke-width="0.9"/>
<line x1="48.8" y1="560.33" x2="50.3" y2="560.33" stroke="#000" stroke-width="0.9"/>
<line x1="48.8" y1="562.22" x2="50.3" y2="562.22" stroke="#000" stroke-width="0.9"/>
<line x1="48.8" y1="564.1" x2="50.3" y2="564.1" stroke="#000" stroke-width="0.9"/>
<line x1="48.8" y1="565.98" x2="50.3" y2="565.98" stroke="#000" stroke-width="0.9"/>
<line x1="48.8" y1="567.87" x2="50.3" y2="567.87" stroke="#000" stroke-width="0.9"/>
<line x1="48.8" y1="569.75" x2="50.3" y2="569.75" stroke="#000" stroke-width="0.9"/>
<line x1="48.8" y1="571.63" x2="50.3" y2="571.63" stroke="#000" stroke-width="0.9"/>
<line x1="48.8" y1="573.52" x2="50.3" y2="573.52" stroke="#000" stroke-width="0.9"/>
<line x1="48.8" y1="575.4" x2="50.3" y2="575.4" stroke="#000" stroke-width="0.9"/>
<text x="44.17" y="556.23" font-size="5.6" stroke="#000" stroke-width="0.3">0</text>
<text x="39.19" y="563.73" font-size="5.6" stroke="#000" stroke-width="0.3">-40</text>
<text x="39.19" y="569.63" font-size="5.6" stroke="#000" stroke-width="0.3">-80</text>
<text x="36.07" y="575.93" font-size="5.6" stroke="#000" stroke-width="0.3">-120</text>
<text x="0" y="0" font-size="6.95" transform="translate(48.39 584.72) scale(1.03 1)" stroke="#000" stroke-width="0.15">0.5 s</text>
<line x1="51.5" y1="552.5" x2="178.6" y2="552.5" stroke="#000" stroke-width="1.1" stroke-dasharray="1.4 2.33"/>
<polyline points="65.4,552.6 65.4,572.55 66,572.08 66.6,572.75 67.2,572.09 67.8,572.47 68.4,573.04 69,572.33 69.6,572.41 70.2,572.75 70.8,572.41 71.4,572.16 72,572.48 72.6,572.57 73.2,572.61 73.8,572.17 74.4,572.93 75,572.9 75.6,573.2 76.2,573.2 76.8,572.27 77.4,572.82 78,572.19 78.6,572.6 79.2,572.26 79.8,572.19 80.4,572.62 81,572.8 81.6,572.4 82.2,572.2 82.8,572.64 83.4,572.39 84,572.49 84.6,572.86 85.2,572.74 85.8,572.24 86.4,573.09 87,572.4 87.6,572.64 88.2,572.21 88.8,572.39 89.4,571.88 90,572.94 90.6,572.81 91.2,572.04 91.8,571.95 92.4,571.91 93,572.75 93.6,572.26 94.2,572.38 94.8,572.31 95.4,572.36 96,572.07 96.6,572.41 97.2,571.97 97.4,572.4 97.4,560.4 97.4,560.56 97.95,560.75 98.5,560.15 99.05,560.68 99.6,560.98 100.15,560.54 100.7,560.13 101.25,560.42 101.8,560.88 102.35,561.65 102.9,562 103.45,559.67 104,560.68 104.55,560.8 105.1,560.63 105.65,560.99 106.2,560.6 106.75,560.08 107.3,560.28 107.85,560.92 108.4,560.85 108.5,563.35 109.05,563.63 109.6,563.14 110.15,562.96 110.7,563.72 111.25,566.25 111.8,563.32 112.35,564.72 112.9,563.51 113.45,563.85 114,562.53 114.55,563.62 115.1,563.58 115.65,564.15 116.2,563.11 116.75,565.75 117.3,563.57 117.85,564.03 118.4,564.68 118.95,564.07 119.5,562.82 120.05,562.97 120.6,563.15 121.15,563.82 121.7,563.43 122.25,562.76 122.8,562.58 123.35,563.42 123.9,564.67 124.45,563.98 125,563.48 125.55,563.37 126.1,564.14 126.65,563.84 127.2,563.5 127.75,563.69 128.3,564.25 128.85,563.77 129.4,564.67 129.95,563.44 130.5,563.75 131.05,565.52 131.6,563.23 132.15,564.77 132.7,565.79 133.25,565.49 133.8,563.53 134.35,564 134.9,562.86 135.45,563.25 136,563.68 136.55,564.12 137.1,563.55 137.65,564.95 138.2,563.67 138.75,563.65 139.3,565.22 139.85,563.8 140.4,564.75 140.95,564.53 141,561 141.55,560.71 142.1,560.3 142.65,560.33 143.2,560.23 143.75,560.16 144.3,561.03 144.85,560.02 145.4,561.45 145.95,560.11 146.5,562.66 147.05,560.81 147.6,561.43 148.15,558.96 148.7,560.39 149.25,560.2 149.8,560.73 150.35,560.57 150.9,561.02 151.45,560.3 152,559.52 152.55,559.64 153.1,560.87 153.5,563.89 154.05,562.42 154.6,562.16 155.15,564.05 155.7,565.03 156.25,563.01 156.8,562.45 157.35,562.92 157.9,562.42 158.45,562.06 159,563.49 159.55,563.46 160.1,563.85 160.65,563.39 161.2,563.39 161.75,563.65 162.3,561.56 162.85,563.75 163.4,563.06 163.95,564.31 164.5,563.2 165.05,563.66 165.6,563.04 166.15,563.02 166.7,563.24 167.25,562.6 167.8,562.75 168.35,566.16 168.9,562.54 169.45,564.07 169.8,561.5 169.8,552.5" fill="none" stroke="#000" stroke-width="1.35" stroke-linejoin="round"/>
<line x1="49.8" y1="592.3" x2="49.8" y2="631.8" stroke="#000" stroke-width="1.3"/>
<line x1="49.2" y1="631.2" x2="177" y2="631.2" stroke="#000" stroke-width="1.3"/>
<text x="0" y="0" font-size="5.8" transform="translate(38.28 594.8) scale(0.95 1)" stroke="#000" stroke-width="0.32">800</text>
<line x1="49.8" y1="592.8" x2="51" y2="592.8" stroke="#000" stroke-width="0.8"/>
<text x="0" y="0" font-size="5.8" transform="translate(38.28 604) scale(0.95 1)" stroke="#000" stroke-width="0.32">600</text>
<line x1="49.8" y1="602" x2="51" y2="602" stroke="#000" stroke-width="0.8"/>
<text x="0" y="0" font-size="5.8" transform="translate(38.28 613.6) scale(0.95 1)" stroke="#000" stroke-width="0.32">400</text>
<line x1="49.8" y1="611.6" x2="51" y2="611.6" stroke="#000" stroke-width="0.8"/>
<text x="0" y="0" font-size="5.8" transform="translate(38.28 623) scale(0.95 1)" stroke="#000" stroke-width="0.32">200</text>
<line x1="49.8" y1="621" x2="51" y2="621" stroke="#000" stroke-width="0.8"/>
<text x="0" y="0" font-size="5.8" transform="translate(44.41 632.6) scale(0.95 1)" stroke="#000" stroke-width="0.32">0</text>
<text x="0" y="0" font-size="5.8" transform="translate(47.39 638.6) scale(0.95 1)" stroke="#000" stroke-width="0.32">-140</text>
<line x1="53.2" y1="631.2" x2="53.2" y2="632.5" stroke="#000" stroke-width="0.8"/>
<text x="0" y="0" font-size="5.8" transform="translate(82.79 638.6) scale(0.95 1)" stroke="#000" stroke-width="0.32">-100</text>
<line x1="88.6" y1="631.2" x2="88.6" y2="632.5" stroke="#000" stroke-width="0.8"/>
<text x="0" y="0" font-size="5.8" transform="translate(118.32 638.6) scale(0.95 1)" stroke="#000" stroke-width="0.32">-60</text>
<line x1="122.6" y1="631.2" x2="122.6" y2="632.5" stroke="#000" stroke-width="0.8"/>
<text x="0" y="0" font-size="5.8" transform="translate(153.72 638.6) scale(0.95 1)" stroke="#000" stroke-width="0.32">-20</text>
<line x1="158" y1="631.2" x2="158" y2="632.5" stroke="#000" stroke-width="0.8"/>
<text x="-15.52" y="0" font-size="7.5" stroke="#000" stroke-width="0.3" transform="translate(32.7 610) rotate(-90)">Count, N</text>
<text x="0" y="0" font-size="6.49" transform="translate(83.79 645.05) scale(0.99 1)" stroke="#000" stroke-width="0.3">Amplitude, pA</text>
<text x="0" y="0" font-size="6.66" transform="translate(61.88 595.83) scale(1.07 1)" stroke="#000" stroke-width="0.33">O</text>
<text x="0" y="0" font-size="6.8" transform="translate(108.78 617.83) scale(1.01 1)" stroke="#000" stroke-width="0.35">S1</text>
<text x="0" y="0" font-size="6.95" transform="translate(126.16 605.83) scale(1.08 1)" stroke="#000" stroke-width="0.32">S2</text>
<polyline points="50,631.2 50.3,631.2 50.6,631.2 50.9,631.2 51.2,631.2 51.5,631.2 51.8,631.2 52.1,631.2 52.4,631.2 52.7,631.2 53,631.2 53.3,631.2 53.6,631.2 53.9,631.2 54.2,631.2 54.5,631.2 54.8,631.2 55.1,631.2 55.4,631.2 55.7,631.2 56,631.2 56.3,631.2 56.6,631.2 56.9,631.2 57.2,631.2 57.5,631.2 57.8,631.2 58.1,631.2 58.4,631.2 58.7,631.2 59,631.2 59.3,631.19 59.6,631.18 59.9,631.15 60.2,631.08 60.5,630.94 60.8,630.67 61.1,630.17 61.4,629.31 61.7,627.94 62,625.88 62.3,623.01 62.6,619.29 62.9,614.85 63.2,610.01 63.5,605.27 63.8,601.26 64.1,598.55 64.4,597.6 64.7,598.55 65,601.26 65.3,605.27 65.6,610.01 65.9,614.85 66.2,619.29 66.5,623.01 66.8,625.88 67.1,627.94 67.4,629.31 67.7,630.17 68,630.67 68.3,630.94 68.6,631.08 68.9,631.15 69.2,631.18 69.5,631.19 69.8,631.2 70.1,631.2 70.4,631.2 70.7,631.2 71,631.2 71.3,631.2 71.6,631.2 71.9,631.2 72.2,631.2 72.5,631.2 72.8,631.2 73.1,631.2 73.4,631.2 73.7,631.2 74,631.2 74.3,631.2 74.6,631.2 74.9,631.2 75.2,631.2 75.5,631.2 75.8,631.2 76.1,631.2 76.4,631.2 76.7,631.2 77,631.2 77.3,631.2 77.6,631.2 77.9,631.2 78.2,631.2 78.5,631.2 78.8,631.2 79.1,631.2 79.4,631.2 79.7,631.2 80,631.2 80.3,631.2 80.6,631.2 80.9,631.2 81.2,631.2 81.5,631.2 81.8,631.2 82.1,631.2 82.4,631.2 82.7,631.2 83,631.2 83.3,631.19 83.6,631.18 83.9,631.17 84.2,631.14 84.5,631.1 84.8,631.05 85.1,631 85.4,630.95 85.7,630.91 86,630.9 86.3,630.91 86.6,630.95 86.9,631 87.2,631.05 87.5,631.1 87.8,631.14 88.1,631.17 88.4,631.18 88.7,631.19 89,631.2 89.3,631.2 89.6,631.2 89.9,631.2 90.2,631.2 90.5,631.2 90.8,631.2 91.1,631.2 91.4,631.2 91.7,631.2 92,631.2 92,631 100,630.5 103.8,630 105.5,628.5 107,626.5 108.5,625 110,625.8 111.2,624.6 112.5,625.8 113.8,625.2 115,626 116.5,624.8 118,625.6 119.5,624.2 121,625.2 122.3,623.4 123.5,624.5 124.6,622.2 125.8,624.8 127,626 128,623 129,619 129.8,617.5 130.6,619.2 131.5,615 132.3,610 132.9,609.2 133.6,613 134.4,620 135.2,626.5 136.2,630.6 137,631.2 177,631.2" fill="none" stroke="#000" stroke-width="1.35" stroke-linejoin="round"/>
<text x="0" y="0" font-size="17.44" transform="translate(193.58 211) scale(1 1)" stroke="#000" stroke-width="0.5">D</text>
<text x="0" y="0" font-size="14.28" transform="translate(268.3 221.97) scale(1.07 1)" stroke="#000" stroke-width="0.42">NaCl</text>
<rect x="224.7" y="232.5" width="112.6" height="136.7" fill="none" stroke="#000" stroke-width="1.6"/>
<text x="0" y="0" font-size="8.8" transform="translate(207.28 236.27) scale(0.88 1)" stroke="#000" stroke-width="0.4">1.1</text>
<text x="0" y="0" font-size="8.8" transform="translate(213.73 251.43) scale(0.88 1)" stroke="#000" stroke-width="0.4">1</text>
<line x1="224.7" y1="247.9" x2="227.5" y2="247.9" stroke="#000" stroke-width="1.2"/>
<text x="0" y="0" font-size="8.8" transform="translate(207.35 266.59) scale(0.88 1)" stroke="#000" stroke-width="0.4">0.9</text>
<line x1="224.7" y1="263.06" x2="227.5" y2="263.06" stroke="#000" stroke-width="1.2"/>
<text x="0" y="0" font-size="8.8" transform="translate(207.3 281.75) scale(0.88 1)" stroke="#000" stroke-width="0.4">0.8</text>
<line x1="224.7" y1="278.22" x2="227.5" y2="278.22" stroke="#000" stroke-width="1.2"/>
<text x="0" y="0" font-size="8.8" transform="translate(207.4 296.91) scale(0.88 1)" stroke="#000" stroke-width="0.4">0.7</text>
<line x1="224.7" y1="293.38" x2="227.5" y2="293.38" stroke="#000" stroke-width="1.2"/>
<text x="0" y="0" font-size="8.8" transform="translate(207.34 312.07) scale(0.88 1)" stroke="#000" stroke-width="0.4">0.6</text>
<line x1="224.7" y1="308.54" x2="227.5" y2="308.54" stroke="#000" stroke-width="1.2"/>
<text x="0" y="0" font-size="8.8" transform="translate(207.28 327.23) scale(0.88 1)" stroke="#000" stroke-width="0.4">0.5</text>
<line x1="224.7" y1="323.7" x2="227.5" y2="323.7" stroke="#000" stroke-width="1.2"/>
<text x="0" y="0" font-size="8.8" transform="translate(207.1 342.39) scale(0.88 1)" stroke="#000" stroke-width="0.4">0.4</text>
<line x1="224.7" y1="338.86" x2="227.5" y2="338.86" stroke="#000" stroke-width="1.2"/>
<text x="0" y="0" font-size="8.8" transform="translate(207.34 357.55) scale(0.88 1)" stroke="#000" stroke-width="0.4">0.3</text>
<line x1="224.7" y1="354.02" x2="227.5" y2="354.02" stroke="#000" stroke-width="1.2"/>
<text x="0" y="0" font-size="8.8" transform="translate(207.37 372.71) scale(0.88 1)" stroke="#000" stroke-width="0.4">0.2</text>
<text x="0" y="0" font-size="9.4" transform="translate(218.81 385.63) scale(0.78 1)" stroke="#000" stroke-width="0.45">-80</text>
<text x="0" y="0" font-size="9.4" transform="translate(232.88 385.63) scale(0.78 1)" stroke="#000" stroke-width="0.45">-60</text>
<line x1="238.78" y1="369.2" x2="238.78" y2="366.4" stroke="#000" stroke-width="1.2"/>
<text x="0" y="0" font-size="9.4" transform="translate(246.96 385.63) scale(0.78 1)" stroke="#000" stroke-width="0.45">-40</text>
<line x1="252.85" y1="369.2" x2="252.85" y2="366.4" stroke="#000" stroke-width="1.2"/>
<text x="0" y="0" font-size="9.4" transform="translate(261.03 385.63) scale(0.78 1)" stroke="#000" stroke-width="0.45">-20</text>
<line x1="266.93" y1="369.2" x2="266.93" y2="366.4" stroke="#000" stroke-width="1.2"/>
<text x="0" y="0" font-size="9.4" transform="translate(279.17 385.63) scale(0.78 1)" stroke="#000" stroke-width="0.45">0</text>
<line x1="281" y1="369.2" x2="281" y2="366.4" stroke="#000" stroke-width="1.2"/>
<text x="0" y="0" font-size="9.4" transform="translate(291.22 385.63) scale(0.78 1)" stroke="#000" stroke-width="0.45">20</text>
<line x1="295.07" y1="369.2" x2="295.07" y2="366.4" stroke="#000" stroke-width="1.2"/>
<text x="0" y="0" font-size="9.4" transform="translate(305.37 385.63) scale(0.78 1)" stroke="#000" stroke-width="0.45">40</text>
<line x1="309.15" y1="369.2" x2="309.15" y2="366.4" stroke="#000" stroke-width="1.2"/>
<text x="0" y="0" font-size="9.4" transform="translate(319.36 385.63) scale(0.78 1)" stroke="#000" stroke-width="0.45">60</text>
<line x1="323.22" y1="369.2" x2="323.22" y2="366.4" stroke="#000" stroke-width="1.2"/>
<text x="0" y="0" font-size="9.4" transform="translate(333.46 385.63) scale(0.78 1)" stroke="#000" stroke-width="0.45">80</text>
<text x="0" y="0" font-size="10.49" transform="translate(253.83 398.7) scale(0.93 1)" stroke="#000" stroke-width="0.43">Voltage, mV</text>
<text x="0" y="0" font-size="10.5" stroke="#000" stroke-width="0.1" transform="translate(198.7 312.1) rotate(-90) scale(0.96 1)">G–G<tspan font-size="7" dy="3.0">0</tspan></text>
<polyline points="237.09,303.39 237.77,301.76 238.69,299.55 239.79,296.91 241.01,294.01 242.28,290.98 243.55,288 244.74,285.21 245.81,282.77 246.77,280.61 247.69,278.56 248.58,276.6 249.44,274.73 250.29,272.94 251.13,271.21 251.98,269.54 252.85,267.91 253.73,266.33 254.61,264.8 255.49,263.33 256.37,261.92 257.25,260.58 258.13,259.31 259.01,258.12 259.89,257 260.77,255.96 261.65,255 262.53,254.12 263.41,253.3 264.29,252.55 265.17,251.86 266.05,251.22 266.93,250.63 267.8,250.1 268.68,249.65 269.56,249.26 270.44,248.92 271.32,248.63 272.2,248.37 273.08,248.13 273.96,247.9 274.84,247.69 275.72,247.51 276.6,247.37 277.48,247.25 278.36,247.15 279.24,247.08 280.12,247.03 281,246.99 281.88,246.97 282.76,246.97 283.64,246.99 284.52,247.04 285.4,247.1 286.28,247.19 287.16,247.31 288.04,247.45 288.92,247.6 289.8,247.78 290.68,247.97 291.56,248.19 292.44,248.44 293.32,248.73 294.2,249.05 295.07,249.42 295.95,249.81 296.83,250.21 297.71,250.65 298.59,251.12 299.47,251.65 300.35,252.24 301.23,252.9 302.11,253.66 302.99,254.51 303.87,255.45 304.75,256.46 305.63,257.54 306.51,258.67 307.39,259.85 308.27,261.06 309.15,262.3 310.02,263.55 310.88,264.81 311.74,266.11 312.6,267.45 313.47,268.86 314.35,270.35 315.26,271.95 316.19,273.67 317.2,275.67 318.33,277.98 319.5,280.48 320.67,283.02 321.79,285.48 322.8,287.71 323.65,289.58 324.28,290.95" fill="none" stroke="#000" stroke-width="1.4" stroke-linejoin="round"/>
<polyline points="238.7,320.21 239.01,319.28 239.41,318.08 239.89,316.67 240.42,315.07 240.98,313.31 241.56,311.44 242.12,309.48 242.65,307.48 243.14,305.36 243.61,303.05 244.08,300.61 244.55,298.08 245.04,295.5 245.56,292.92 246.12,290.38 246.73,287.92 247.39,285.52 248.09,283.1 248.83,280.69 249.6,278.3 250.4,275.93 251.21,273.6 252.03,271.33 252.85,269.12 253.69,266.94 254.55,264.75 255.42,262.58 256.31,260.46 257.21,258.44 258.11,256.53 259,254.78 259.89,253.21 260.76,251.83 261.61,250.62 262.46,249.55 263.32,248.61 264.18,247.77 265.07,247.01 265.98,246.3 266.93,245.63 267.93,245.01 269,244.48 270.11,244.02 271.24,243.64 272.35,243.31 273.42,243.03 274.44,242.8 275.37,242.59 276.2,242.43 276.94,242.33 277.63,242.27 278.27,242.26 278.91,242.29 279.56,242.36 280.25,242.46 281,242.59 281.81,242.75 282.66,242.95 283.54,243.18 284.43,243.45 285.34,243.75 286.25,244.09 287.15,244.46 288.04,244.87 288.94,245.33 289.86,245.85 290.8,246.41 291.73,247 292.64,247.61 293.51,248.23 294.33,248.83 295.07,249.42 295.72,249.91 296.25,250.28 296.72,250.62 297.16,250.97 297.6,251.41 298.09,252.02 298.67,252.84 299.37,253.96 300.22,255.45 301.21,257.28 302.28,259.35 303.4,261.56 304.52,263.83 305.6,266.07 306.59,268.16 307.46,270.03 308.19,271.66 308.83,273.12 309.39,274.47 309.91,275.78 310.4,277.08 310.9,278.44 311.44,279.91 312.04,281.56 312.68,283.36 313.35,285.27 314.03,287.27 314.73,289.33 315.44,291.45 316.16,293.6 316.88,295.77 317.59,297.93 318.36,300.23 319.19,302.74 320.05,305.36 320.9,307.97 321.71,310.45 322.44,312.69 323.05,314.57 323.51,315.97" fill="none" stroke="#000" stroke-width="1.7" stroke-linejoin="round" stroke-dasharray="5 2.6"/>
<circle cx="238.7" cy="298.53" r="1.8" fill="#fff" stroke="#000" stroke-width="1.1"/>
<circle cx="242.43" cy="290.2" r="1.8" fill="#fff" stroke="#000" stroke-width="1.1"/>
<circle cx="245.67" cy="282.46" r="1.8" fill="#fff" stroke="#000" stroke-width="1.1"/>
<circle cx="249.19" cy="275.04" r="1.8" fill="#fff" stroke="#000" stroke-width="1.1"/>
<circle cx="252.57" cy="268.67" r="1.8" fill="#fff" stroke="#000" stroke-width="1.1"/>
<circle cx="256.51" cy="258.97" r="1.8" fill="#fff" stroke="#000" stroke-width="1.1"/>
<circle cx="259.96" cy="252.45" r="1.8" fill="#fff" stroke="#000" stroke-width="1.1"/>
<circle cx="263.41" cy="250.17" r="1.8" fill="#fff" stroke="#000" stroke-width="1.1"/>
<circle cx="266.64" cy="248.96" r="1.8" fill="#fff" stroke="#000" stroke-width="1.1"/>
<circle cx="270.09" cy="249.57" r="1.8" fill="#fff" stroke="#000" stroke-width="1.1"/>
<circle cx="273.89" cy="248.2" r="1.8" fill="#fff" stroke="#000" stroke-width="1.1"/>
<circle cx="277.9" cy="248.2" r="1.8" fill="#fff" stroke="#000" stroke-width="1.1"/>
<circle cx="284.87" cy="247.14" r="1.8" fill="#fff" stroke="#000" stroke-width="1.1"/>
<circle cx="288.6" cy="246.99" r="1.8" fill="#fff" stroke="#000" stroke-width="1.1"/>
<circle cx="292.26" cy="245.78" r="1.8" fill="#fff" stroke="#000" stroke-width="1.1"/>
<circle cx="295.5" cy="248.2" r="1.8" fill="#fff" stroke="#000" stroke-width="1.1"/>
<circle cx="299.16" cy="248.96" r="1.8" fill="#fff" stroke="#000" stroke-width="1.1"/>
<circle cx="302.53" cy="251.54" r="1.8" fill="#fff" stroke="#000" stroke-width="1.1"/>
<circle cx="305.84" cy="254.72" r="1.8" fill="#fff" stroke="#000" stroke-width="1.1"/>
<circle cx="310.06" cy="258.06" r="1.8" fill="#fff" stroke="#000" stroke-width="1.1"/>
<circle cx="313.44" cy="272.46" r="1.8" fill="#fff" stroke="#000" stroke-width="1.1"/>
<circle cx="320.62" cy="278.52" r="1.8" fill="#fff" stroke="#000" stroke-width="1.1"/>
<circle cx="316.47" cy="284.89" r="1.8" fill="#fff" stroke="#000" stroke-width="1.1"/>
<circle cx="324.63" cy="286.86" r="1.8" fill="#fff" stroke="#000" stroke-width="1.1"/>
<circle cx="238.78" cy="310.36" r="2.3" fill="#000" stroke="none" stroke-width="1"/>
<circle cx="242.29" cy="312.78" r="2.3" fill="#000" stroke="none" stroke-width="1"/>
<circle cx="246.52" cy="297.93" r="2.3" fill="#000" stroke="none" stroke-width="1"/>
<circle cx="250.03" cy="282.77" r="2.3" fill="#000" stroke="none" stroke-width="1"/>
<circle cx="252.85" cy="271.7" r="2.3" fill="#000" stroke="none" stroke-width="1"/>
<circle cx="257.07" cy="255.48" r="2.3" fill="#000" stroke="none" stroke-width="1"/>
<circle cx="263.41" cy="247.14" r="2.3" fill="#000" stroke="none" stroke-width="1"/>
<circle cx="266.93" cy="246.08" r="2.3" fill="#000" stroke="none" stroke-width="1"/>
<circle cx="270.44" cy="245.63" r="2.3" fill="#000" stroke="none" stroke-width="1"/>
<circle cx="273.96" cy="244.87" r="2.3" fill="#000" stroke="none" stroke-width="1"/>
<circle cx="277.48" cy="245.17" r="2.3" fill="#000" stroke="none" stroke-width="1"/>
<circle cx="295.57" cy="248.35" r="2.3" fill="#000" stroke="none" stroke-width="1"/>
<circle cx="299.09" cy="250.33" r="2.3" fill="#000" stroke="none" stroke-width="1"/>
<circle cx="302.11" cy="252.45" r="2.3" fill="#000" stroke="none" stroke-width="1"/>
<circle cx="306.33" cy="262.61" r="2.3" fill="#000" stroke="none" stroke-width="1"/>
<circle cx="309.85" cy="275.34" r="2.3" fill="#000" stroke="none" stroke-width="1"/>
<circle cx="313.23" cy="292.77" r="2.3" fill="#000" stroke="none" stroke-width="1"/>
<circle cx="316.54" cy="297.02" r="2.3" fill="#000" stroke="none" stroke-width="1"/>
<circle cx="319.92" cy="307.18" r="2.3" fill="#000" stroke="none" stroke-width="1"/>
<circle cx="323.86" cy="315.67" r="2.3" fill="#000" stroke="none" stroke-width="1"/>
<circle cx="262.8" cy="337.9" r="2.5" fill="#000" stroke="none" stroke-width="1"/>
<text x="0" y="0" font-size="7.09" transform="translate(266.67 341.88) scale(1.06 1)" stroke="#000" stroke-width="0.42">VDAC1</text>
<circle cx="263" cy="348.6" r="1.9" fill="#fff" stroke="#000" stroke-width="1.1"/>
<text x="0" y="0" font-size="7.23" transform="translate(266.67 352.57) scale(1.05 1)" stroke="#000" stroke-width="0.43">VDAC1-ΔC</text>
<text x="0" y="0" font-size="17.44" transform="translate(348.68 211.25) scale(0.92 1)" stroke="#000" stroke-width="0.54">E</text>
<text x="0" y="0" font-size="13.73" transform="translate(422.71 220.88) scale(1.09 1)" stroke="#000" stroke-width="0.41">CaCl</text>
<text x="0" y="0" font-size="8.52" transform="translate(456.83 224.52) scale(1.18 1)" stroke="#000" stroke-width="0.3">2</text>
<rect x="384.5" y="232.5" width="112.6" height="136.7" fill="none" stroke="#000" stroke-width="1.6"/>
<text x="0" y="0" font-size="8.8" transform="translate(367.68 236.27) scale(0.88 1)" stroke="#000" stroke-width="0.4">1.1</text>
<text x="0" y="0" font-size="8.8" transform="translate(374.13 251.43) scale(0.88 1)" stroke="#000" stroke-width="0.4">1</text>
<line x1="384.5" y1="247.9" x2="387.3" y2="247.9" stroke="#000" stroke-width="1.2"/>
<text x="0" y="0" font-size="8.8" transform="translate(367.75 266.59) scale(0.88 1)" stroke="#000" stroke-width="0.4">0.9</text>
<line x1="384.5" y1="263.06" x2="387.3" y2="263.06" stroke="#000" stroke-width="1.2"/>
<text x="0" y="0" font-size="8.8" transform="translate(367.7 281.75) scale(0.88 1)" stroke="#000" stroke-width="0.4">0.8</text>
<line x1="384.5" y1="278.22" x2="387.3" y2="278.22" stroke="#000" stroke-width="1.2"/>
<text x="0" y="0" font-size="8.8" transform="translate(367.8 296.91) scale(0.88 1)" stroke="#000" stroke-width="0.4">0.7</text>
<line x1="384.5" y1="293.38" x2="387.3" y2="293.38" stroke="#000" stroke-width="1.2"/>
<text x="0" y="0" font-size="8.8" transform="translate(367.74 312.07) scale(0.88 1)" stroke="#000" stroke-width="0.4">0.6</text>
<line x1="384.5" y1="308.54" x2="387.3" y2="308.54" stroke="#000" stroke-width="1.2"/>
<text x="0" y="0" font-size="8.8" transform="translate(367.68 327.23) scale(0.88 1)" stroke="#000" stroke-width="0.4">0.5</text>
<line x1="384.5" y1="323.7" x2="387.3" y2="323.7" stroke="#000" stroke-width="1.2"/>
<text x="0" y="0" font-size="8.8" transform="translate(367.5 342.39) scale(0.88 1)" stroke="#000" stroke-width="0.4">0.4</text>
<line x1="384.5" y1="338.86" x2="387.3" y2="338.86" stroke="#000" stroke-width="1.2"/>
<text x="0" y="0" font-size="8.8" transform="translate(367.74 357.55) scale(0.88 1)" stroke="#000" stroke-width="0.4">0.3</text>
<line x1="384.5" y1="354.02" x2="387.3" y2="354.02" stroke="#000" stroke-width="1.2"/>
<text x="0" y="0" font-size="8.8" transform="translate(367.77 372.71) scale(0.88 1)" stroke="#000" stroke-width="0.4">0.2</text>
<text x="0" y="0" font-size="9.4" transform="translate(378.61 385.63) scale(0.78 1)" stroke="#000" stroke-width="0.45">-80</text>
<text x="0" y="0" font-size="9.4" transform="translate(392.68 385.63) scale(0.78 1)" stroke="#000" stroke-width="0.45">-60</text>
<line x1="398.57" y1="369.2" x2="398.57" y2="366.4" stroke="#000" stroke-width="1.2"/>
<text x="0" y="0" font-size="9.4" transform="translate(406.76 385.63) scale(0.78 1)" stroke="#000" stroke-width="0.45">-40</text>
<line x1="412.65" y1="369.2" x2="412.65" y2="366.4" stroke="#000" stroke-width="1.2"/>
<text x="0" y="0" font-size="9.4" transform="translate(420.83 385.63) scale(0.78 1)" stroke="#000" stroke-width="0.45">-20</text>
<line x1="426.73" y1="369.2" x2="426.73" y2="366.4" stroke="#000" stroke-width="1.2"/>
<text x="0" y="0" font-size="9.4" transform="translate(438.97 385.63) scale(0.78 1)" stroke="#000" stroke-width="0.45">0</text>
<line x1="440.8" y1="369.2" x2="440.8" y2="366.4" stroke="#000" stroke-width="1.2"/>
<text x="0" y="0" font-size="9.4" transform="translate(451.02 385.63) scale(0.78 1)" stroke="#000" stroke-width="0.45">20</text>
<line x1="454.88" y1="369.2" x2="454.88" y2="366.4" stroke="#000" stroke-width="1.2"/>
<text x="0" y="0" font-size="9.4" transform="translate(465.17 385.63) scale(0.78 1)" stroke="#000" stroke-width="0.45">40</text>
<line x1="468.95" y1="369.2" x2="468.95" y2="366.4" stroke="#000" stroke-width="1.2"/>
<text x="0" y="0" font-size="9.4" transform="translate(479.16 385.63) scale(0.78 1)" stroke="#000" stroke-width="0.45">60</text>
<line x1="483.03" y1="369.2" x2="483.03" y2="366.4" stroke="#000" stroke-width="1.2"/>
<text x="0" y="0" font-size="9.4" transform="translate(493.26 385.63) scale(0.78 1)" stroke="#000" stroke-width="0.45">80</text>
<text x="0" y="0" font-size="10.07" transform="translate(413.83 398.7) scale(0.97 1)" stroke="#000" stroke-width="0.41">Voltage, mV</text>
<text x="0" y="0" font-size="10.5" stroke="#000" stroke-width="0.1" transform="translate(357 312.1) rotate(-90) scale(0.96 1)">G–G<tspan font-size="7" dy="3.0">0</tspan></text>
<polyline points="397.52,331.89 398.12,329.97 398.92,327.43 399.87,324.4 400.93,321.04 402.05,317.46 403.19,313.82 404.3,310.24 405.33,306.87 406.31,303.6 407.3,300.24 408.29,296.83 409.28,293.41 410.26,290.01 411.25,286.68 412.23,283.44 413.21,280.34 414.19,277.3 415.15,274.26 416.12,271.25 417.08,268.34 418.05,265.56 419.01,262.96 419.98,260.6 420.95,258.51 421.94,256.72 422.95,255.19 423.97,253.89 424.98,252.77 425.99,251.8 426.97,250.94 427.92,250.16 428.84,249.42 429.71,248.76 430.55,248.24 431.36,247.83 432.14,247.52 432.91,247.28 433.67,247.07 434.42,246.88 435.17,246.69 435.91,246.5 436.63,246.35 437.33,246.23 438.03,246.15 438.72,246.09 439.41,246.07 440.1,246.06 440.8,246.08 441.49,246.12 442.17,246.18 442.85,246.26 443.52,246.37 444.21,246.52 444.92,246.69 445.66,246.9 446.43,247.14 447.25,247.41 448.12,247.71 449.02,248.03 449.94,248.38 450.87,248.78 451.79,249.23 452.68,249.75 453.54,250.33 454.36,250.97 455.16,251.69 455.95,252.46 456.72,253.28 457.48,254.15 458.25,255.07 459.02,256.02 459.8,257 460.57,257.95 461.31,258.87 462.04,259.79 462.77,260.77 463.54,261.85 464.34,263.09 465.2,264.54 466.13,266.24 467.17,268.22 468.29,270.43 469.48,272.84 470.7,275.42 471.94,278.11 473.17,280.89 474.36,283.72 475.49,286.56 476.63,289.63 477.81,293.07 479,296.69 480.16,300.33 481.25,303.82 482.22,306.97 483.04,309.61 483.66,311.57" fill="none" stroke="#000" stroke-width="1.4" stroke-linejoin="round"/>
<polyline points="399.07,335.07 399.46,334.8 399.99,334.47 400.62,334.07 401.32,333.62 402.06,333.11 402.81,332.55 403.53,331.94 404.2,331.28 404.82,330.66 405.41,330.12 405.99,329.57 406.58,328.95 407.17,328.17 407.8,327.17 408.47,325.85 409.2,324.15 410,322 410.85,319.43 411.74,316.54 412.67,313.42 413.61,310.18 414.55,306.9 415.48,303.7 416.38,300.66 417.27,297.68 418.17,294.65 419.07,291.59 419.97,288.55 420.85,285.56 421.71,282.66 422.55,279.9 423.35,277.31 424.11,274.88 424.86,272.56 425.58,270.36 426.29,268.26 426.96,266.26 427.61,264.35 428.24,262.53 428.84,260.79 429.38,259.12 429.87,257.54 430.31,256.05 430.74,254.65 431.17,253.34 431.63,252.13 432.13,251.02 432.71,250.02 433.37,249.14 434.1,248.37 434.87,247.71 435.68,247.15 436.48,246.67 437.27,246.27 438.01,245.92 438.69,245.63 439.3,245.38 439.85,245.19 440.37,245.07 440.87,245.02 441.35,245.04 441.85,245.15 442.36,245.34 442.91,245.63 443.48,245.99 444.06,246.43 444.64,246.95 445.23,247.56 445.84,248.25 446.48,249.04 447.14,249.94 447.84,250.93 448.57,251.98 449.34,253.06 450.13,254.21 450.95,255.47 451.78,256.88 452.64,258.49 453.51,260.33 454.38,262.45 455.28,264.94 456.22,267.78 457.17,270.89 458.14,274.18 459.11,277.56 460.07,280.94 461.01,284.22 461.91,287.32 462.79,290.33 463.66,293.4 464.52,296.47 465.36,299.48 466.18,302.4 466.98,305.17 467.77,307.74 468.53,310.06 469.25,312.11 469.93,313.93 470.58,315.55 471.22,317.03 471.85,318.39 472.5,319.68 473.17,320.93 473.88,322.18 474.66,323.45 475.54,324.7 476.46,325.9 477.38,327.04 478.26,328.07 479.05,328.99 479.71,329.77 480.21,330.37" fill="none" stroke="#000" stroke-width="1.7" stroke-linejoin="round" stroke-dasharray="5 2.6"/>
<circle cx="419.05" cy="246.69" r="1.8" fill="#fff" stroke="#000" stroke-width="1.1"/>
<circle cx="426.44" cy="246.69" r="1.8" fill="#fff" stroke="#000" stroke-width="1.1"/>
<circle cx="430.31" cy="246.69" r="1.8" fill="#fff" stroke="#000" stroke-width="1.1"/>
<circle cx="433.83" cy="246.69" r="1.8" fill="#fff" stroke="#000" stroke-width="1.1"/>
<circle cx="436.93" cy="248.35" r="1.8" fill="#fff" stroke="#000" stroke-width="1.1"/>
<circle cx="444.18" cy="247.14" r="1.8" fill="#fff" stroke="#000" stroke-width="1.1"/>
<circle cx="447.7" cy="247.14" r="1.8" fill="#fff" stroke="#000" stroke-width="1.1"/>
<circle cx="451.29" cy="247.6" r="1.8" fill="#fff" stroke="#000" stroke-width="1.1"/>
<circle cx="462.26" cy="250.33" r="1.8" fill="#fff" stroke="#000" stroke-width="1.1"/>
<circle cx="454.38" cy="256.09" r="1.8" fill="#fff" stroke="#000" stroke-width="1.1"/>
<circle cx="458.68" cy="257.6" r="1.8" fill="#fff" stroke="#000" stroke-width="1.1"/>
<circle cx="465.85" cy="267.46" r="1.8" fill="#fff" stroke="#000" stroke-width="1.1"/>
<circle cx="468.95" cy="281.4" r="1.8" fill="#fff" stroke="#000" stroke-width="1.1"/>
<circle cx="480.21" cy="281.4" r="1.8" fill="#fff" stroke="#000" stroke-width="1.1"/>
<circle cx="475.78" cy="288.68" r="1.8" fill="#fff" stroke="#000" stroke-width="1.1"/>
<circle cx="472.4" cy="300.05" r="1.8" fill="#fff" stroke="#000" stroke-width="1.1"/>
<circle cx="483.66" cy="321.88" r="1.8" fill="#fff" stroke="#000" stroke-width="1.1"/>
<circle cx="415.47" cy="264.88" r="1.8" fill="#fff" stroke="#000" stroke-width="1.1"/>
<circle cx="423.49" cy="265.94" r="1.8" fill="#fff" stroke="#000" stroke-width="1.1"/>
<circle cx="409.2" cy="284.74" r="1.8" fill="#fff" stroke="#000" stroke-width="1.1"/>
<circle cx="412.86" cy="291.11" r="1.8" fill="#fff" stroke="#000" stroke-width="1.1"/>
<circle cx="405.33" cy="307.78" r="1.8" fill="#fff" stroke="#000" stroke-width="1.1"/>
<circle cx="401.46" cy="324.46" r="1.8" fill="#fff" stroke="#000" stroke-width="1.1"/>
<circle cx="397.52" cy="329.16" r="1.8" fill="#fff" stroke="#000" stroke-width="1.1"/>
<circle cx="427.22" cy="260.48" r="2.3" fill="#000" stroke="none" stroke-width="1"/>
<circle cx="422.57" cy="271.7" r="2.3" fill="#000" stroke="none" stroke-width="1"/>
<circle cx="415.96" cy="302.63" r="2.3" fill="#000" stroke="none" stroke-width="1"/>
<circle cx="419.48" cy="307.33" r="2.3" fill="#000" stroke="none" stroke-width="1"/>
<circle cx="412.86" cy="319.76" r="2.3" fill="#000" stroke="none" stroke-width="1"/>
<circle cx="408.5" cy="329.16" r="2.3" fill="#000" stroke="none" stroke-width="1"/>
<circle cx="404.98" cy="333.1" r="2.3" fill="#000" stroke="none" stroke-width="1"/>
<circle cx="400.62" cy="332.34" r="2.3" fill="#000" stroke="none" stroke-width="1"/>
<circle cx="397.52" cy="330.67" r="2.3" fill="#000" stroke="none" stroke-width="1"/>
<circle cx="437.28" cy="248.35" r="2.3" fill="#000" stroke="none" stroke-width="1"/>
<circle cx="448.05" cy="255.03" r="2.3" fill="#000" stroke="none" stroke-width="1"/>
<circle cx="450.44" cy="256.54" r="2.3" fill="#000" stroke="none" stroke-width="1"/>
<circle cx="458.68" cy="267.46" r="2.3" fill="#000" stroke="none" stroke-width="1"/>
<circle cx="454.73" cy="274.13" r="2.3" fill="#000" stroke="none" stroke-width="1"/>
<circle cx="462.26" cy="286.1" r="2.3" fill="#000" stroke="none" stroke-width="1"/>
<circle cx="465.85" cy="298.69" r="2.3" fill="#000" stroke="none" stroke-width="1"/>
<circle cx="476.27" cy="316.27" r="2.3" fill="#000" stroke="none" stroke-width="1"/>
<circle cx="469.58" cy="319.76" r="2.3" fill="#000" stroke="none" stroke-width="1"/>
<circle cx="472.4" cy="321.43" r="2.3" fill="#000" stroke="none" stroke-width="1"/>
<circle cx="479.86" cy="327.19" r="2.3" fill="#000" stroke="none" stroke-width="1"/>
<circle cx="483.66" cy="337.34" r="2.3" fill="#000" stroke="none" stroke-width="1"/>
<circle cx="425.8" cy="338.9" r="2.5" fill="#000" stroke="none" stroke-width="1"/>
<text x="0" y="0" font-size="6.8" transform="translate(429.67 342.47) scale(1.12 1)" stroke="#000" stroke-width="0.4">VDAC1</text>
<circle cx="426" cy="349" r="1.9" fill="#fff" stroke="#000" stroke-width="1.1"/>
<text x="0" y="0" font-size="7.66" transform="translate(429.67 353.47) scale(0.99 1)" stroke="#000" stroke-width="0.46">VDAC1-ΔC</text>
<text x="0" y="0" font-size="17.44" transform="translate(195.6 461.25) scale(0.99 1)" stroke="#000" stroke-width="0.51">F</text>
<line x1="235.1" y1="473.2" x2="235.1" y2="509.8" stroke="#000" stroke-width="1.2"/>
<line x1="235.1" y1="473.4" x2="237.8" y2="473.4" stroke="#000" stroke-width="1"/>
<line x1="235.1" y1="477" x2="237.8" y2="477" stroke="#000" stroke-width="1"/>
<line x1="235.1" y1="480.6" x2="237.8" y2="480.6" stroke="#000" stroke-width="1"/>
<line x1="235.1" y1="484.2" x2="237.8" y2="484.2" stroke="#000" stroke-width="1"/>
<line x1="235.1" y1="487.8" x2="237.8" y2="487.8" stroke="#000" stroke-width="1"/>
<line x1="235.1" y1="491.4" x2="237.8" y2="491.4" stroke="#000" stroke-width="1"/>
<line x1="235.1" y1="495" x2="237.8" y2="495" stroke="#000" stroke-width="1"/>
<line x1="235.1" y1="498.6" x2="237.8" y2="498.6" stroke="#000" stroke-width="1"/>
<line x1="235.1" y1="502.2" x2="237.8" y2="502.2" stroke="#000" stroke-width="1"/>
<line x1="235.1" y1="505.8" x2="237.8" y2="505.8" stroke="#000" stroke-width="1"/>
<line x1="235.1" y1="509.4" x2="237.8" y2="509.4" stroke="#000" stroke-width="1"/>
<text x="0" y="0" font-size="7.66" transform="translate(226.78 478.97) scale(0.81 1)" stroke="#000" stroke-width="0.56">0</text>
<text x="0" y="0" font-size="7.09" transform="translate(219.72 494.77) scale(1.11 1)" stroke="#000" stroke-width="0.41">-20</text>
<text x="0" y="0" font-size="7.09" transform="translate(219.72 511.07) scale(1.11 1)" stroke="#000" stroke-width="0.41">-40</text>
<text x="0" y="0" font-size="12.28" transform="translate(200.01 498.17) scale(1 1)" stroke="#000" stroke-width="0.45">pA</text>
<line x1="242.9" y1="513.1" x2="264.2" y2="513.1" stroke="#000" stroke-width="1.7"/>
<text x="0" y="0" font-size="9.45" transform="translate(241.92 528.35) scale(1.05 1)" stroke="#000" stroke-width="0.47">1 s</text>
<text x="0" y="0" font-size="14.25" transform="translate(292.72 466.17) scale(1.03 1)" stroke="#000" stroke-width="0.44">VDAC1</text>
<text x="0" y="0" font-size="12.63" transform="translate(387.55 464.97) scale(1.15 1)" stroke="#000" stroke-width="0.39">Bcl-X</text>
<text x="0" y="0" font-size="10.61" transform="translate(427.35 469.5) scale(0.92 1)" stroke="#000" stroke-width="0.44">L</text>
<text x="0" y="0" font-size="13.1" transform="translate(434.26 464.97) scale(1.1 1)" stroke="#000" stroke-width="0.41">-ΔC</text>
<line x1="241.35" y1="473.6" x2="368" y2="473.6" stroke="#000" stroke-width="1.6" stroke-dasharray="2.7 4.5"/>
<line x1="378.65" y1="473.6" x2="491" y2="473.6" stroke="#000" stroke-width="1.6" stroke-dasharray="2.7 4.5"/>
<path d="M370.4,478.4 L374.0,467.8 M374.6,478.4 L378.2,467.8" stroke="#000" stroke-width="1.6" fill="none"/>
<polyline points="278,473.7 278,504.39 278.5,505.29 279,504.93 279.5,506.22 280,505.15 280.5,504.36 281,505.54 281.5,504.28 282,504.34 282.5,504.69 283,504.1 283.5,504.27 284,506.01 284.5,504.8 285,504.7 285.5,504.19 286,505.11 286.5,504.14 287,505.06 287.5,503.81 288,504.2 288.5,504.39 289,504.55 289.5,504.32 290,506.16 290.5,504.35 291,504.28 291.5,504.41 292,504.8 292.5,505.47 293,504.46 293.5,504.75 294,504.5 294.5,504.62 295,505.54 295.5,504.52 296,504.84 296.5,505.92 297,504.75 297.5,504.72 298,504.27 298.5,504.74 299,504.19 299.5,505.22 300,504.14 300.5,504.42 301,504.19 301.5,505.01 302,504.26 302.5,504.46 303,506.16 303.5,504.53 304,504.28 304.5,504.39 305,504.58 305.5,504.34 306,505.91 306.5,503.76 307,506.5 307.5,504.19 308,504.7 308.5,506.01 309,505.3 309.5,505.04 310,504.47 310.5,504.66 311,506.14 311.5,504.45 312,504.57 312.5,505.31 313,504.18 313.5,504.15 314,505.36 314.5,504.05 315,503.91 315.5,504.79 316,504.11 316.5,504.25 317,506.04 317.5,504.92 318,503.75 318.5,503.63 319,504.97 319.5,504.42 320,504.02 320.5,505.25 321,505.18 321.5,505.17 322,504.47 322.5,506.01 323,504.21 323.5,505.01 324,504.81 324.5,504.68 325,505.35 325.5,504.56 326,504.1 326.5,504.81 327,504.37 327.5,505.17 328,505.52 328.5,505.6 329,505.71 329.5,504.33 330,504.77 330.5,503.9 331,505.1 331.5,504.62 332,505.07 332.5,504.43 333,504.91 333.5,504.46 334,504.1 334.5,504.9 335,504.33 335.5,504.13 336,504.5 336.5,503.99 337,504.64 337.5,505.06 338,504.45 338.5,504.98 339,504.07 339.5,506.53 340,504.03 340.5,504.01 341,503.74 341.5,504.53 342,503.88 342.5,504.62 343,506.01 343.5,505.31 344,505.03 344.5,505.33 345,504.92 345.5,504.54 346,504.39 346.5,504.27 347,504.67 347.5,505.25 348,505.77 348.5,504.41 349,504.77 349.5,503.88 350,504.72 350.5,504.19 351,504.49 351.5,505.4 352,504.29 352.5,504.94 353,504.8 353.5,504.31 354,504.75 354.5,504.47 355,504.09 355.5,506.28 356,505.35 356.2,504.4 356.2,473.7" fill="none" stroke="#000" stroke-width="1.8" stroke-linejoin="round"/>
<polyline points="384.3,473.7 384.3,490.39 384.8,488.43 385.3,488.4 385.8,488.46 386.3,489.93 386.8,489.17 387.3,489.24 387.8,488.23 388.3,490.08 388.8,488.2 389.3,487.82 389.8,488.11 390.3,490.44 390.8,490.49 391.3,488.44 391.8,489.06 392.3,488.9 392.8,488.42 393.3,488.8 393.8,488.78 394.3,488.96 394.8,488.58 395.3,488.73 395.8,488.67 396.3,489.46 396.8,488.23 397.3,489.65 397.8,488.4 398.3,489.7 398.8,488.75 399.3,491.23 399.8,488.68 400.3,488.61 400.8,489.82 401.3,488.84 401.8,488.33 402.3,488.46 402.8,488.26 403.3,488.01 403.8,488.7 404.3,488.77 404.8,488.71 405.3,488.2 405.8,488.18 406.3,488.52 406.8,488.48 407.3,487.86 407.8,489.6 408.3,489.23 408.8,488.51 409.3,488.99 409.8,487.93 410.3,488.54 410.8,488.6 411.3,488.31 411.8,488.09 412.3,489.98 412.8,488.72 413.3,488.92 413.8,488.77 414.3,488.67 414.8,487.9 415.3,488.36 415.8,489.21 416.3,488.85 416.8,488.41 417.3,488.22 417.8,488.66 418.3,489.63 418.8,487.92 419.3,489.5 419.8,488.36 420.3,489.27 420.8,489.88 421.3,488.55 421.8,488.14 422.3,490.05 422.8,488.1 423.3,488.8 423.8,488.11 424.3,490.21 424.8,489.05 425.3,490.08 425.8,488.41 426.3,489.29 426.8,488.27 427.3,488.78 427.8,488.22 428.3,488.12 428.8,489.01 429.3,488.63 429.8,488.82 430.3,489.43 430.8,489.54 431.3,489.1 431.8,490.31 432.3,488.08 432.8,488.76 433.3,489.04 433.8,488.04 434.3,487.75 434.8,488.57 435.3,488.91 435.8,487.73 436.3,489.52 436.8,489.86 437.3,489.95 437.8,487.96 438.3,490.17 438.8,487.96 439.3,488.49 439.8,488.14 440.3,490.11 440.8,488.34 441.3,488.34 441.8,488.68 442.3,488.27 442.8,489.23 443.3,488.47 443.8,488.03 444.3,488.99 444.8,488.96 445.3,488.3 445.8,489.52 446.3,488.18 446.8,488.12 447.3,488.39 447.8,489.03 448.3,489.27 448.8,489.58 449.3,487.94 449.8,488.8 450.3,490.25 450.8,488 451.3,488.08 451.8,488.03 452.3,488.09 452.8,489.47 453.3,488.1 453.8,488.97 454.3,488.24 454.8,488.84 455.3,488.14 455.8,489.46 456.3,487.96 456.8,488.25 457.3,488.74 457.8,489.51 458.3,488.55 458.8,487.7 459.3,489.12 459.8,487.71 460.3,487.95 460.8,488.26 461.3,489.21 461.8,488.43 462.3,490.35 462.8,489.53 463.2,488.4 463.2,473.7" fill="none" stroke="#000" stroke-width="1.7" stroke-linejoin="round"/>
<line x1="235.1" y1="561.3" x2="235.1" y2="598.4" stroke="#000" stroke-width="1.2"/>
<line x1="235.1" y1="561.5" x2="237.8" y2="561.5" stroke="#000" stroke-width="1"/>
<line x1="235.1" y1="565.15" x2="237.8" y2="565.15" stroke="#000" stroke-width="1"/>
<line x1="235.1" y1="568.8" x2="237.8" y2="568.8" stroke="#000" stroke-width="1"/>
<line x1="235.1" y1="572.45" x2="237.8" y2="572.45" stroke="#000" stroke-width="1"/>
<line x1="235.1" y1="576.1" x2="237.8" y2="576.1" stroke="#000" stroke-width="1"/>
<line x1="235.1" y1="579.75" x2="237.8" y2="579.75" stroke="#000" stroke-width="1"/>
<line x1="235.1" y1="583.4" x2="237.8" y2="583.4" stroke="#000" stroke-width="1"/>
<line x1="235.1" y1="587.05" x2="237.8" y2="587.05" stroke="#000" stroke-width="1"/>
<line x1="235.1" y1="590.7" x2="237.8" y2="590.7" stroke="#000" stroke-width="1"/>
<line x1="235.1" y1="594.35" x2="237.8" y2="594.35" stroke="#000" stroke-width="1"/>
<line x1="235.1" y1="598" x2="237.8" y2="598" stroke="#000" stroke-width="1"/>
<text x="0" y="0" font-size="6.8" transform="translate(227 566.27) scale(0.82 1)" stroke="#000" stroke-width="0.55">0</text>
<text x="0" y="0" font-size="6.8" transform="translate(220.14 581.48) scale(1.07 1)" stroke="#000" stroke-width="0.42">-20</text>
<text x="0" y="0" font-size="6.8" transform="translate(220.14 598.38) scale(1.07 1)" stroke="#000" stroke-width="0.42">-40</text>
<text x="0" y="0" font-size="12.28" transform="translate(199.58 586.17) scale(1.04 1)" stroke="#000" stroke-width="0.43">pA</text>
<line x1="241.1" y1="601.1" x2="264.2" y2="601.1" stroke="#000" stroke-width="1.7"/>
<text x="0" y="0" font-size="9.59" transform="translate(241.92 618.15) scale(1.04 1)" stroke="#000" stroke-width="0.48">1 s</text>
<text x="0" y="0" font-size="14.25" transform="translate(279.62 554.48) scale(1.05 1)" stroke="#000" stroke-width="0.43">VDAC1-ΔC</text>
<text x="0" y="0" font-size="12.08" transform="translate(387.05 552.57) scale(1.2 1)" stroke="#000" stroke-width="0.37">Bcl-X</text>
<text x="0" y="0" font-size="10.03" transform="translate(427.05 557.3) scale(0.97 1)" stroke="#000" stroke-width="0.41">L</text>
<text x="0" y="0" font-size="12.53" transform="translate(433.86 552.57) scale(1.16 1)" stroke="#000" stroke-width="0.39">-ΔC</text>
<line x1="241.35" y1="561.6" x2="364" y2="561.6" stroke="#000" stroke-width="1.6" stroke-dasharray="2.7 4.5"/>
<line x1="378.65" y1="561.6" x2="491" y2="561.6" stroke="#000" stroke-width="1.6" stroke-dasharray="2.7 4.5"/>
<path d="M366.4,565.8 L369.8,555.2 M370.6,565.8 L374.0,555.2" stroke="#000" stroke-width="1.6" fill="none"/>
<polyline points="278.2,561.8 278.2,585.97 278.7,586.22 279.2,586.17 279.7,585.44 280.2,586.62 280.7,585.5 281.2,587.56 281.7,587.33 282.2,585.55 282.7,585.87 283.2,587.88 283.7,585.48 284.2,585.61 284.7,587.13 285.2,585.8 285.7,585.3 286.2,585.21 286.7,585.79 287.2,584.78 287.7,585.57 288.2,585.72 288.7,585.75 289.2,585.32 289.7,587.15 290.2,585.19 290.7,585.22 291.2,585.97 291.7,586.7 292.2,585.33 292.7,585.05 293.2,587.35 293.7,585.87 294.2,587.07 294.7,585.79 295.2,585.76 295.7,586.94 296.2,585.39 296.7,585.65 297.2,586.08 297.7,585.67 298.2,585.86 298.7,585.45 299.2,585.64 299.7,585.65 300.2,586.06 300.7,585.21 301.2,586.41 301.7,585.83 302.2,586.09 302.7,585.84 303.2,585.84 303.7,585.48 304.2,585.72 304.7,587.35 305.2,586.56 305.7,586.3 306.2,585.56 306.7,585.56 307.2,586.21 307.7,585.67 308.2,585.53 308.7,586.26 309.2,585.81 309.7,585.87 310.2,585.32 310.7,586.03 311.2,588.11 311.7,585.58 312.2,586.05 312.7,585.43 313.2,587.63 313.7,586.83 314.2,585.59 314.7,586.22 315.2,587.16 315.7,585.47 316.2,585.89 316.7,585.63 317.2,586.4 317.7,586.6 318.2,586.85 318.7,587.51 319.2,587.69 319.7,585.63 320.2,587.96 320.7,587.44 321.2,587.32 321.7,585.87 322.2,587.25 322.7,586.03 323.2,587.53 323.7,585.42 324.2,586.82 324.7,585.76 325.2,586.65 325.7,585.29 326.2,587.98 326.7,586.3 327.2,587.27 327.7,586.73 328.2,585.86 328.7,587.45 329.2,585.59 329.7,588.49 330.2,587.83 330.7,587.58 331.2,585.76 331.7,585.75 332.2,587.53 332.7,585.74 333.2,585.77 333.7,587.3 334.2,585.73 334.7,585.56 335.2,585.84 335.7,586.4 336.2,585.17 336.7,587.17 337.2,588.01 337.7,588.1 338.2,585.29 338.7,587.87 339.2,585.4 339.7,585.77 340.2,587.38 340.7,587.06 341.2,585.74 341.7,585.8 342.2,585.37 342.7,585.6 343.2,585.48 343.7,585.18 344.2,585.61 344.7,587.35 345.2,586.69 345.7,587.46 346.2,586.05 346.7,585.23 347.2,585.33 347.7,586.16 348.2,586.76 348.7,585.92 349.2,585.62 349.7,585.91 350.2,587.54 350.7,585.6 351.2,585.39 351.7,585.32 352.2,585.84 352.7,584.94 353.2,587.06 353.7,585.41 354.2,585.92 354.7,586.15 355.2,586.75 355.7,587.69 356.2,585.39 356.2,585.6 356.2,561.8" fill="none" stroke="#000" stroke-width="1.8" stroke-linejoin="round"/>
<polyline points="384.5,561.8 384.5,569.67 385,569.12 385.5,568.99 386,568.83 386.5,569.26 387,568.61 387.5,568.87 388,570.26 388.5,568.74 389,569.23 389.5,568.8 390,569.22 390.5,568.73 391,570.48 391.5,570.4 392,568.69 392.5,569.85 393,568.94 393.5,570.06 394,569.05 394.5,568.45 395,570.08 395.5,568.37 396,568.91 396.5,569.97 397,569.04 397.5,568.75 398,568.77 398.5,568.83 399,571.23 399.5,569.23 400,569.38 400.5,568.68 401,568.85 401.5,570.72 402,568.63 402.5,568.98 403,569.06 403.5,568.29 404,568.34 404.5,568.76 405,568.22 405.5,568.92 406,570.07 406.5,569.4 407,568.82 407.5,569.24 408,568.69 408.5,569.13 409,568.46 409.5,569.34 410,568.95 410.5,568.57 411,569 411.5,569.38 412,570.16 412.5,568.67 413,570.49 413.5,570.4 414,568.05 414.5,568.91 415,568.81 415.5,569.33 416,568.51 416.5,568.38 417,568.75 417.5,568.51 418,569.17 418.5,569.67 419,568.42 419.5,568.38 420,568.63 420.5,568.42 421,568.83 421.5,568.56 422,570.14 422.5,569.45 423,570.55 423.5,568.56 424,568.2 424.5,569.89 425,568.9 425.5,568.88 426,569.01 426.5,568.13 427,570.81 427.5,568.87 428,569.47 428.5,569.05 429,569.66 429.5,568.54 430,568.71 430.5,569.26 431,569.53 431.5,569.57 432,568.63 432.5,569.01 433,568.89 433.5,568.84 434,568.49 434.5,570.79 435,569.04 435.5,568.58 436,570.95 436.5,568.03 437,568.36 437.5,568.8 438,568.9 438.5,568.5 439,570.89 439.5,569.2 440,569.78 440.5,570.56 441,568.56 441.5,569.91 442,570.51 442.5,569.99 443,569.23 443.5,570.43 444,568.87 444.5,569.66 445,570.52 445.5,568.69 446,569.88 446.5,568.89 447,568.64 447.5,568.87 448,568.61 448.5,570.09 449,569.42 449.5,570.41 450,571.03 450.5,569.93 451,570.43 451.5,569.1 452,570.75 452.5,568.42 453,570.22 453.5,568.99 454,570.41 454.5,569.15 455,569.08 455.5,569.6 456,570.5 456.5,568.73 457,569.15 457.5,570.23 458,569.85 458.5,568.63 459,568.52 459.5,568.72 460,568.55 460.5,570.52 461,568.64 461.5,569.52 462,569.66 462.5,570.18 463,570.63 463.2,568.8 463.2,561.8" fill="none" stroke="#000" stroke-width="1.7" stroke-linejoin="round"/>
<line x1="1" y1="0" x2="1" y2="668" stroke="#5e5e5e" stroke-width="2"/>
<line x1="0" y1="1" x2="520" y2="1" stroke="#5e5e5e" stroke-width="2"/>
<line x1="519" y1="0" x2="519" y2="668" stroke="#868686" stroke-width="2"/>
<line x1="0" y1="667" x2="520" y2="667" stroke="#868686" stroke-width="2"/>
</svg>
</body></html>
